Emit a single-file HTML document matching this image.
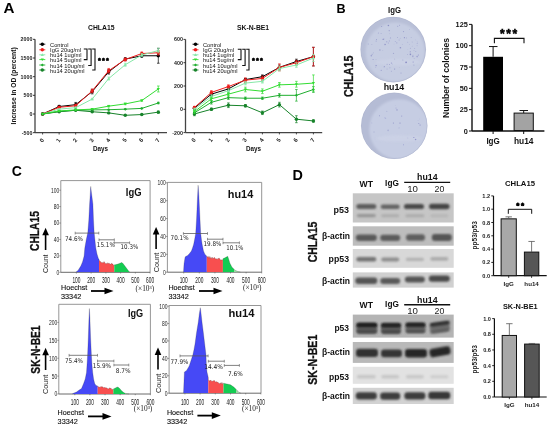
<!DOCTYPE html>
<html><head><meta charset="utf-8"><title>Figure</title>
<style>html,body{margin:0;padding:0;background:#fff;} svg{display:block;}</style></head>
<body><svg width="550" height="431" viewBox="0 0 550 431">
<defs><radialGradient id="plate" cx="0.5" cy="0.5" r="0.5">
<stop offset="0" stop-color="#c3cbe5"/><stop offset="0.82" stop-color="#c0c8e2"/><stop offset="0.95" stop-color="#b6bed9"/><stop offset="1" stop-color="#adb5d0"/></radialGradient>
<filter id="blur05" x="-50%" y="-50%" width="200%" height="200%"><feGaussianBlur stdDeviation="0.45"/></filter>
<filter id="blurst" x="-20%" y="-50%" width="140%" height="200%"><feGaussianBlur stdDeviation="0.4"/></filter>
<filter id="blur1" x="-50%" y="-50%" width="200%" height="200%"><feGaussianBlur stdDeviation="1.0"/></filter>
<filter id="blurb" x="-20%" y="-60%" width="140%" height="220%"><feGaussianBlur stdDeviation="1.0"/></filter>
<filter id="blur15" x="-20%" y="-50%" width="140%" height="200%"><feGaussianBlur stdDeviation="1.3"/></filter>
</defs>
<rect width="550" height="431" fill="#fff"/>
<text x="3.60" y="13.30" font-size="15.2" font-family="'Liberation Sans', Arial, sans-serif" fill="#000" font-weight="bold" >A</text>
<text x="336.60" y="13.00" font-size="12.6" font-family="'Liberation Sans', Arial, sans-serif" fill="#000" font-weight="bold" >B</text>
<text x="11.80" y="176.00" font-size="14" font-family="'Liberation Sans', Arial, sans-serif" fill="#000" font-weight="bold" >C</text>
<text x="292.60" y="180.20" font-size="15.0" font-family="'Liberation Sans', Arial, sans-serif" fill="#000" font-weight="bold" textLength="10.4" lengthAdjust="spacingAndGlyphs" >D</text>
<line x1="35.00" y1="39.30" x2="35.00" y2="132.70" stroke="#444" stroke-width="1.3" />
<line x1="33.00" y1="39.34" x2="35.00" y2="39.34" stroke="#222" stroke-width="0.9" />
<text x="32.40" y="41.24" font-size="5.3" font-family="'Liberation Sans', Arial, sans-serif" fill="#222" font-weight="bold" text-anchor="end" >2000</text>
<line x1="33.00" y1="58.00" x2="35.00" y2="58.00" stroke="#222" stroke-width="0.9" />
<text x="32.40" y="59.90" font-size="5.3" font-family="'Liberation Sans', Arial, sans-serif" fill="#222" font-weight="bold" text-anchor="end" >1500</text>
<line x1="33.00" y1="76.67" x2="35.00" y2="76.67" stroke="#222" stroke-width="0.9" />
<text x="32.40" y="78.57" font-size="5.3" font-family="'Liberation Sans', Arial, sans-serif" fill="#222" font-weight="bold" text-anchor="end" >1000</text>
<line x1="33.00" y1="95.33" x2="35.00" y2="95.33" stroke="#222" stroke-width="0.9" />
<text x="32.40" y="97.23" font-size="5.3" font-family="'Liberation Sans', Arial, sans-serif" fill="#222" font-weight="bold" text-anchor="end" >500</text>
<line x1="33.00" y1="114.00" x2="35.00" y2="114.00" stroke="#222" stroke-width="0.9" />
<text x="32.40" y="115.90" font-size="5.3" font-family="'Liberation Sans', Arial, sans-serif" fill="#222" font-weight="bold" text-anchor="end" >0</text>
<line x1="33.00" y1="132.66" x2="35.00" y2="132.66" stroke="#222" stroke-width="0.9" />
<text x="32.40" y="134.56" font-size="5.3" font-family="'Liberation Sans', Arial, sans-serif" fill="#222" font-weight="bold" text-anchor="end" >-500</text>
<line x1="35.00" y1="132.70" x2="167.00" y2="132.70" stroke="#444" stroke-width="1.3" />
<line x1="42.60" y1="132.70" x2="42.60" y2="134.50" stroke="#222" stroke-width="0.8" />
<text x="43.50" y="141.30" font-size="5.8" font-family="'Liberation Sans', Arial, sans-serif" fill="#222" font-weight="bold" text-anchor="middle" transform="rotate(-55 43.50 141.30)" >0</text>
<line x1="59.13" y1="132.70" x2="59.13" y2="134.50" stroke="#222" stroke-width="0.8" />
<text x="60.03" y="141.30" font-size="5.8" font-family="'Liberation Sans', Arial, sans-serif" fill="#222" font-weight="bold" text-anchor="middle" transform="rotate(-55 60.03 141.30)" >1</text>
<line x1="75.66" y1="132.70" x2="75.66" y2="134.50" stroke="#222" stroke-width="0.8" />
<text x="76.56" y="141.30" font-size="5.8" font-family="'Liberation Sans', Arial, sans-serif" fill="#222" font-weight="bold" text-anchor="middle" transform="rotate(-55 76.56 141.30)" >2</text>
<line x1="92.19" y1="132.70" x2="92.19" y2="134.50" stroke="#222" stroke-width="0.8" />
<text x="93.09" y="141.30" font-size="5.8" font-family="'Liberation Sans', Arial, sans-serif" fill="#222" font-weight="bold" text-anchor="middle" transform="rotate(-55 93.09 141.30)" >3</text>
<line x1="108.72" y1="132.70" x2="108.72" y2="134.50" stroke="#222" stroke-width="0.8" />
<text x="109.62" y="141.30" font-size="5.8" font-family="'Liberation Sans', Arial, sans-serif" fill="#222" font-weight="bold" text-anchor="middle" transform="rotate(-55 109.62 141.30)" >4</text>
<line x1="125.25" y1="132.70" x2="125.25" y2="134.50" stroke="#222" stroke-width="0.8" />
<text x="126.15" y="141.30" font-size="5.8" font-family="'Liberation Sans', Arial, sans-serif" fill="#222" font-weight="bold" text-anchor="middle" transform="rotate(-55 126.15 141.30)" >5</text>
<line x1="141.78" y1="132.70" x2="141.78" y2="134.50" stroke="#222" stroke-width="0.8" />
<text x="142.68" y="141.30" font-size="5.8" font-family="'Liberation Sans', Arial, sans-serif" fill="#222" font-weight="bold" text-anchor="middle" transform="rotate(-55 142.68 141.30)" >6</text>
<line x1="158.31" y1="132.70" x2="158.31" y2="134.50" stroke="#222" stroke-width="0.8" />
<text x="159.21" y="141.30" font-size="5.8" font-family="'Liberation Sans', Arial, sans-serif" fill="#222" font-weight="bold" text-anchor="middle" transform="rotate(-55 159.21 141.30)" >7</text>
<text x="100.50" y="151.20" font-size="6.3" font-family="'Liberation Sans', Arial, sans-serif" fill="#111" font-weight="bold" text-anchor="middle" >Days</text>
<text x="88.00" y="29.80" font-size="6.8" font-family="'Liberation Sans', Arial, sans-serif" fill="#111" font-weight="bold" >CHLA15</text>
<line x1="59.13" y1="105.41" x2="59.13" y2="107.65" stroke="#000000" stroke-width="0.7" />
<line x1="57.83" y1="105.41" x2="60.43" y2="105.41" stroke="#000000" stroke-width="0.7" />
<line x1="57.83" y1="107.65" x2="60.43" y2="107.65" stroke="#000000" stroke-width="0.7" />
<line x1="75.66" y1="102.43" x2="75.66" y2="106.91" stroke="#000000" stroke-width="0.7" />
<line x1="74.36" y1="102.43" x2="76.96" y2="102.43" stroke="#000000" stroke-width="0.7" />
<line x1="74.36" y1="106.91" x2="76.96" y2="106.91" stroke="#000000" stroke-width="0.7" />
<line x1="92.19" y1="89.36" x2="92.19" y2="93.84" stroke="#000000" stroke-width="0.7" />
<line x1="90.89" y1="89.36" x2="93.49" y2="89.36" stroke="#000000" stroke-width="0.7" />
<line x1="90.89" y1="93.84" x2="93.49" y2="93.84" stroke="#000000" stroke-width="0.7" />
<line x1="108.72" y1="69.58" x2="108.72" y2="74.06" stroke="#000000" stroke-width="0.7" />
<line x1="107.42" y1="69.58" x2="110.02" y2="69.58" stroke="#000000" stroke-width="0.7" />
<line x1="107.42" y1="74.06" x2="110.02" y2="74.06" stroke="#000000" stroke-width="0.7" />
<line x1="125.25" y1="57.63" x2="125.25" y2="60.62" stroke="#000000" stroke-width="0.7" />
<line x1="123.95" y1="57.63" x2="126.55" y2="57.63" stroke="#000000" stroke-width="0.7" />
<line x1="123.95" y1="60.62" x2="126.55" y2="60.62" stroke="#000000" stroke-width="0.7" />
<line x1="141.78" y1="54.27" x2="141.78" y2="57.26" stroke="#000000" stroke-width="0.7" />
<line x1="140.48" y1="54.27" x2="143.08" y2="54.27" stroke="#000000" stroke-width="0.7" />
<line x1="140.48" y1="57.26" x2="143.08" y2="57.26" stroke="#000000" stroke-width="0.7" />
<line x1="158.31" y1="48.30" x2="158.31" y2="63.23" stroke="#000000" stroke-width="0.7" />
<line x1="157.01" y1="48.30" x2="159.61" y2="48.30" stroke="#000000" stroke-width="0.7" />
<line x1="157.01" y1="63.23" x2="159.61" y2="63.23" stroke="#000000" stroke-width="0.7" />
<polyline points="42.60,114.00 59.13,106.53 75.66,104.67 92.19,91.60 108.72,71.82 125.25,59.12 141.78,55.77 158.31,55.77" stroke="#000000" stroke-width="1.0" fill="none" />
<circle cx="42.60" cy="114.00" r="1.7" fill="#000000"/>
<circle cx="59.13" cy="106.53" r="1.7" fill="#000000"/>
<circle cx="75.66" cy="104.67" r="1.7" fill="#000000"/>
<circle cx="92.19" cy="91.60" r="1.7" fill="#000000"/>
<circle cx="108.72" cy="71.82" r="1.7" fill="#000000"/>
<circle cx="125.25" cy="59.12" r="1.7" fill="#000000"/>
<circle cx="141.78" cy="55.77" r="1.7" fill="#000000"/>
<circle cx="158.31" cy="55.77" r="1.7" fill="#000000"/>
<line x1="59.13" y1="106.53" x2="59.13" y2="108.03" stroke="#ee1c1c" stroke-width="0.7" />
<line x1="57.83" y1="106.53" x2="60.43" y2="106.53" stroke="#ee1c1c" stroke-width="0.7" />
<line x1="57.83" y1="108.03" x2="60.43" y2="108.03" stroke="#ee1c1c" stroke-width="0.7" />
<line x1="75.66" y1="104.29" x2="75.66" y2="107.28" stroke="#ee1c1c" stroke-width="0.7" />
<line x1="74.36" y1="104.29" x2="76.96" y2="104.29" stroke="#ee1c1c" stroke-width="0.7" />
<line x1="74.36" y1="107.28" x2="76.96" y2="107.28" stroke="#ee1c1c" stroke-width="0.7" />
<line x1="92.19" y1="88.99" x2="92.19" y2="92.72" stroke="#ee1c1c" stroke-width="0.7" />
<line x1="90.89" y1="88.99" x2="93.49" y2="88.99" stroke="#ee1c1c" stroke-width="0.7" />
<line x1="90.89" y1="92.72" x2="93.49" y2="92.72" stroke="#ee1c1c" stroke-width="0.7" />
<line x1="108.72" y1="68.46" x2="108.72" y2="72.94" stroke="#ee1c1c" stroke-width="0.7" />
<line x1="107.42" y1="68.46" x2="110.02" y2="68.46" stroke="#ee1c1c" stroke-width="0.7" />
<line x1="107.42" y1="72.94" x2="110.02" y2="72.94" stroke="#ee1c1c" stroke-width="0.7" />
<line x1="125.25" y1="58.00" x2="125.25" y2="60.99" stroke="#ee1c1c" stroke-width="0.7" />
<line x1="123.95" y1="58.00" x2="126.55" y2="58.00" stroke="#ee1c1c" stroke-width="0.7" />
<line x1="123.95" y1="60.99" x2="126.55" y2="60.99" stroke="#ee1c1c" stroke-width="0.7" />
<line x1="141.78" y1="52.03" x2="141.78" y2="55.02" stroke="#ee1c1c" stroke-width="0.7" />
<line x1="140.48" y1="52.03" x2="143.08" y2="52.03" stroke="#ee1c1c" stroke-width="0.7" />
<line x1="140.48" y1="55.02" x2="143.08" y2="55.02" stroke="#ee1c1c" stroke-width="0.7" />
<line x1="158.31" y1="50.54" x2="158.31" y2="55.02" stroke="#ee1c1c" stroke-width="0.7" />
<line x1="157.01" y1="50.54" x2="159.61" y2="50.54" stroke="#ee1c1c" stroke-width="0.7" />
<line x1="157.01" y1="55.02" x2="159.61" y2="55.02" stroke="#ee1c1c" stroke-width="0.7" />
<polyline points="42.60,114.00 59.13,107.28 75.66,105.79 92.19,90.86 108.72,70.70 125.25,59.50 141.78,53.53 158.31,52.78" stroke="#ee1c1c" stroke-width="1.0" fill="none" />
<circle cx="42.60" cy="114.00" r="1.7" fill="#ee1c1c"/>
<circle cx="59.13" cy="107.28" r="1.7" fill="#ee1c1c"/>
<circle cx="75.66" cy="105.79" r="1.7" fill="#ee1c1c"/>
<circle cx="92.19" cy="90.86" r="1.7" fill="#ee1c1c"/>
<circle cx="108.72" cy="70.70" r="1.7" fill="#ee1c1c"/>
<circle cx="125.25" cy="59.50" r="1.7" fill="#ee1c1c"/>
<circle cx="141.78" cy="53.53" r="1.7" fill="#ee1c1c"/>
<circle cx="158.31" cy="52.78" r="1.7" fill="#ee1c1c"/>
<line x1="59.13" y1="108.77" x2="59.13" y2="109.52" stroke="#86e8a8" stroke-width="0.7" />
<line x1="57.83" y1="108.77" x2="60.43" y2="108.77" stroke="#86e8a8" stroke-width="0.7" />
<line x1="57.83" y1="109.52" x2="60.43" y2="109.52" stroke="#86e8a8" stroke-width="0.7" />
<line x1="75.66" y1="106.91" x2="75.66" y2="108.40" stroke="#86e8a8" stroke-width="0.7" />
<line x1="74.36" y1="106.91" x2="76.96" y2="106.91" stroke="#86e8a8" stroke-width="0.7" />
<line x1="74.36" y1="108.40" x2="76.96" y2="108.40" stroke="#86e8a8" stroke-width="0.7" />
<line x1="92.19" y1="98.32" x2="92.19" y2="99.81" stroke="#86e8a8" stroke-width="0.7" />
<line x1="90.89" y1="98.32" x2="93.49" y2="98.32" stroke="#86e8a8" stroke-width="0.7" />
<line x1="90.89" y1="99.81" x2="93.49" y2="99.81" stroke="#86e8a8" stroke-width="0.7" />
<line x1="108.72" y1="77.04" x2="108.72" y2="80.03" stroke="#86e8a8" stroke-width="0.7" />
<line x1="107.42" y1="77.04" x2="110.02" y2="77.04" stroke="#86e8a8" stroke-width="0.7" />
<line x1="107.42" y1="80.03" x2="110.02" y2="80.03" stroke="#86e8a8" stroke-width="0.7" />
<line x1="125.25" y1="63.23" x2="125.25" y2="66.22" stroke="#86e8a8" stroke-width="0.7" />
<line x1="123.95" y1="63.23" x2="126.55" y2="63.23" stroke="#86e8a8" stroke-width="0.7" />
<line x1="123.95" y1="66.22" x2="126.55" y2="66.22" stroke="#86e8a8" stroke-width="0.7" />
<line x1="141.78" y1="53.53" x2="141.78" y2="56.51" stroke="#86e8a8" stroke-width="0.7" />
<line x1="140.48" y1="53.53" x2="143.08" y2="53.53" stroke="#86e8a8" stroke-width="0.7" />
<line x1="140.48" y1="56.51" x2="143.08" y2="56.51" stroke="#86e8a8" stroke-width="0.7" />
<line x1="158.31" y1="48.30" x2="158.31" y2="52.78" stroke="#86e8a8" stroke-width="0.7" />
<line x1="157.01" y1="48.30" x2="159.61" y2="48.30" stroke="#86e8a8" stroke-width="0.7" />
<line x1="157.01" y1="52.78" x2="159.61" y2="52.78" stroke="#86e8a8" stroke-width="0.7" />
<polyline points="42.60,114.00 59.13,109.15 75.66,107.65 92.19,99.07 108.72,78.54 125.25,64.72 141.78,55.02 158.31,50.54" stroke="#86e8a8" stroke-width="1.0" fill="none" />
<path d="M41.00,115.10 L44.20,115.10 L42.60,112.50 Z" fill="#86e8a8"/>
<path d="M57.53,110.25 L60.73,110.25 L59.13,107.65 Z" fill="#86e8a8"/>
<path d="M74.06,108.75 L77.26,108.75 L75.66,106.15 Z" fill="#86e8a8"/>
<path d="M90.59,100.17 L93.79,100.17 L92.19,97.57 Z" fill="#86e8a8"/>
<path d="M107.12,79.64 L110.32,79.64 L108.72,77.04 Z" fill="#86e8a8"/>
<path d="M123.65,65.82 L126.85,65.82 L125.25,63.22 Z" fill="#86e8a8"/>
<path d="M140.18,56.12 L143.38,56.12 L141.78,53.52 Z" fill="#86e8a8"/>
<path d="M156.71,51.64 L159.91,51.64 L158.31,49.04 Z" fill="#86e8a8"/>
<line x1="59.13" y1="111.01" x2="59.13" y2="111.76" stroke="#1fae2f" stroke-width="0.7" />
<line x1="57.83" y1="111.01" x2="60.43" y2="111.01" stroke="#1fae2f" stroke-width="0.7" />
<line x1="57.83" y1="111.76" x2="60.43" y2="111.76" stroke="#1fae2f" stroke-width="0.7" />
<line x1="75.66" y1="109.89" x2="75.66" y2="110.64" stroke="#1fae2f" stroke-width="0.7" />
<line x1="74.36" y1="109.89" x2="76.96" y2="109.89" stroke="#1fae2f" stroke-width="0.7" />
<line x1="74.36" y1="110.64" x2="76.96" y2="110.64" stroke="#1fae2f" stroke-width="0.7" />
<line x1="92.19" y1="109.52" x2="92.19" y2="110.27" stroke="#1fae2f" stroke-width="0.7" />
<line x1="90.89" y1="109.52" x2="93.49" y2="109.52" stroke="#1fae2f" stroke-width="0.7" />
<line x1="90.89" y1="110.27" x2="93.49" y2="110.27" stroke="#1fae2f" stroke-width="0.7" />
<line x1="108.72" y1="109.33" x2="108.72" y2="110.08" stroke="#1fae2f" stroke-width="0.7" />
<line x1="107.42" y1="109.33" x2="110.02" y2="109.33" stroke="#1fae2f" stroke-width="0.7" />
<line x1="107.42" y1="110.08" x2="110.02" y2="110.08" stroke="#1fae2f" stroke-width="0.7" />
<line x1="125.25" y1="108.77" x2="125.25" y2="109.52" stroke="#1fae2f" stroke-width="0.7" />
<line x1="123.95" y1="108.77" x2="126.55" y2="108.77" stroke="#1fae2f" stroke-width="0.7" />
<line x1="123.95" y1="109.52" x2="126.55" y2="109.52" stroke="#1fae2f" stroke-width="0.7" />
<line x1="141.78" y1="108.03" x2="141.78" y2="108.77" stroke="#1fae2f" stroke-width="0.7" />
<line x1="140.48" y1="108.03" x2="143.08" y2="108.03" stroke="#1fae2f" stroke-width="0.7" />
<line x1="140.48" y1="108.77" x2="143.08" y2="108.77" stroke="#1fae2f" stroke-width="0.7" />
<line x1="158.31" y1="102.24" x2="158.31" y2="103.73" stroke="#1fae2f" stroke-width="0.7" />
<line x1="157.01" y1="102.24" x2="159.61" y2="102.24" stroke="#1fae2f" stroke-width="0.7" />
<line x1="157.01" y1="103.73" x2="159.61" y2="103.73" stroke="#1fae2f" stroke-width="0.7" />
<polyline points="42.60,114.00 59.13,111.39 75.66,110.27 92.19,109.89 108.72,109.71 125.25,109.15 141.78,108.40 158.31,102.99" stroke="#1fae2f" stroke-width="1.0" fill="none" />
<path d="M42.60,112.50 L44.10,114.00 L42.60,115.50 L41.10,114.00 Z" fill="#1fae2f"/>
<path d="M59.13,109.89 L60.63,111.39 L59.13,112.89 L57.63,111.39 Z" fill="#1fae2f"/>
<path d="M75.66,108.77 L77.16,110.27 L75.66,111.77 L74.16,110.27 Z" fill="#1fae2f"/>
<path d="M92.19,108.39 L93.69,109.89 L92.19,111.39 L90.69,109.89 Z" fill="#1fae2f"/>
<path d="M108.72,108.21 L110.22,109.71 L108.72,111.21 L107.22,109.71 Z" fill="#1fae2f"/>
<path d="M125.25,107.65 L126.75,109.15 L125.25,110.65 L123.75,109.15 Z" fill="#1fae2f"/>
<path d="M141.78,106.90 L143.28,108.40 L141.78,109.90 L140.28,108.40 Z" fill="#1fae2f"/>
<path d="M158.31,101.49 L159.81,102.99 L158.31,104.49 L156.81,102.99 Z" fill="#1fae2f"/>
<line x1="59.13" y1="111.39" x2="59.13" y2="112.13" stroke="#17832a" stroke-width="0.7" />
<line x1="57.83" y1="111.39" x2="60.43" y2="111.39" stroke="#17832a" stroke-width="0.7" />
<line x1="57.83" y1="112.13" x2="60.43" y2="112.13" stroke="#17832a" stroke-width="0.7" />
<line x1="75.66" y1="109.89" x2="75.66" y2="110.64" stroke="#17832a" stroke-width="0.7" />
<line x1="74.36" y1="109.89" x2="76.96" y2="109.89" stroke="#17832a" stroke-width="0.7" />
<line x1="74.36" y1="110.64" x2="76.96" y2="110.64" stroke="#17832a" stroke-width="0.7" />
<line x1="92.19" y1="111.39" x2="92.19" y2="112.13" stroke="#17832a" stroke-width="0.7" />
<line x1="90.89" y1="111.39" x2="93.49" y2="111.39" stroke="#17832a" stroke-width="0.7" />
<line x1="90.89" y1="112.13" x2="93.49" y2="112.13" stroke="#17832a" stroke-width="0.7" />
<line x1="108.72" y1="112.51" x2="108.72" y2="113.25" stroke="#17832a" stroke-width="0.7" />
<line x1="107.42" y1="112.51" x2="110.02" y2="112.51" stroke="#17832a" stroke-width="0.7" />
<line x1="107.42" y1="113.25" x2="110.02" y2="113.25" stroke="#17832a" stroke-width="0.7" />
<line x1="125.25" y1="114.93" x2="125.25" y2="115.68" stroke="#17832a" stroke-width="0.7" />
<line x1="123.95" y1="114.93" x2="126.55" y2="114.93" stroke="#17832a" stroke-width="0.7" />
<line x1="123.95" y1="115.68" x2="126.55" y2="115.68" stroke="#17832a" stroke-width="0.7" />
<line x1="141.78" y1="114.19" x2="141.78" y2="114.93" stroke="#17832a" stroke-width="0.7" />
<line x1="140.48" y1="114.19" x2="143.08" y2="114.19" stroke="#17832a" stroke-width="0.7" />
<line x1="140.48" y1="114.93" x2="143.08" y2="114.93" stroke="#17832a" stroke-width="0.7" />
<line x1="158.31" y1="111.01" x2="158.31" y2="113.25" stroke="#17832a" stroke-width="0.7" />
<line x1="157.01" y1="111.01" x2="159.61" y2="111.01" stroke="#17832a" stroke-width="0.7" />
<line x1="157.01" y1="113.25" x2="159.61" y2="113.25" stroke="#17832a" stroke-width="0.7" />
<polyline points="42.60,114.00 59.13,111.76 75.66,110.27 92.19,111.76 108.72,112.88 125.25,115.31 141.78,114.56 158.31,112.13" stroke="#17832a" stroke-width="1.0" fill="none" />
<circle cx="42.60" cy="114.00" r="1.7" fill="#17832a"/>
<circle cx="59.13" cy="111.76" r="1.7" fill="#17832a"/>
<circle cx="75.66" cy="110.27" r="1.7" fill="#17832a"/>
<circle cx="92.19" cy="111.76" r="1.7" fill="#17832a"/>
<circle cx="108.72" cy="112.88" r="1.7" fill="#17832a"/>
<circle cx="125.25" cy="115.31" r="1.7" fill="#17832a"/>
<circle cx="141.78" cy="114.56" r="1.7" fill="#17832a"/>
<circle cx="158.31" cy="112.13" r="1.7" fill="#17832a"/>
<line x1="59.13" y1="110.64" x2="59.13" y2="111.39" stroke="#33dd33" stroke-width="0.7" />
<line x1="57.83" y1="110.64" x2="60.43" y2="110.64" stroke="#33dd33" stroke-width="0.7" />
<line x1="57.83" y1="111.39" x2="60.43" y2="111.39" stroke="#33dd33" stroke-width="0.7" />
<line x1="75.66" y1="109.52" x2="75.66" y2="110.27" stroke="#33dd33" stroke-width="0.7" />
<line x1="74.36" y1="109.52" x2="76.96" y2="109.52" stroke="#33dd33" stroke-width="0.7" />
<line x1="74.36" y1="110.27" x2="76.96" y2="110.27" stroke="#33dd33" stroke-width="0.7" />
<line x1="92.19" y1="108.77" x2="92.19" y2="109.52" stroke="#33dd33" stroke-width="0.7" />
<line x1="90.89" y1="108.77" x2="93.49" y2="108.77" stroke="#33dd33" stroke-width="0.7" />
<line x1="90.89" y1="109.52" x2="93.49" y2="109.52" stroke="#33dd33" stroke-width="0.7" />
<line x1="108.72" y1="105.41" x2="108.72" y2="106.91" stroke="#33dd33" stroke-width="0.7" />
<line x1="107.42" y1="105.41" x2="110.02" y2="105.41" stroke="#33dd33" stroke-width="0.7" />
<line x1="107.42" y1="106.91" x2="110.02" y2="106.91" stroke="#33dd33" stroke-width="0.7" />
<line x1="125.25" y1="103.17" x2="125.25" y2="104.67" stroke="#33dd33" stroke-width="0.7" />
<line x1="123.95" y1="103.17" x2="126.55" y2="103.17" stroke="#33dd33" stroke-width="0.7" />
<line x1="123.95" y1="104.67" x2="126.55" y2="104.67" stroke="#33dd33" stroke-width="0.7" />
<line x1="141.78" y1="99.81" x2="141.78" y2="101.31" stroke="#33dd33" stroke-width="0.7" />
<line x1="140.48" y1="99.81" x2="143.08" y2="99.81" stroke="#33dd33" stroke-width="0.7" />
<line x1="140.48" y1="101.31" x2="143.08" y2="101.31" stroke="#33dd33" stroke-width="0.7" />
<line x1="158.31" y1="86.00" x2="158.31" y2="91.98" stroke="#33dd33" stroke-width="0.7" />
<line x1="157.01" y1="86.00" x2="159.61" y2="86.00" stroke="#33dd33" stroke-width="0.7" />
<line x1="157.01" y1="91.98" x2="159.61" y2="91.98" stroke="#33dd33" stroke-width="0.7" />
<polyline points="42.60,114.00 59.13,111.01 75.66,109.89 92.19,109.15 108.72,106.16 125.25,103.92 141.78,100.56 158.31,88.99" stroke="#33dd33" stroke-width="1.0" fill="none" />
<path d="M41.00,112.90 L44.20,112.90 L42.60,115.50 Z" fill="#33dd33"/>
<path d="M57.53,109.91 L60.73,109.91 L59.13,112.51 Z" fill="#33dd33"/>
<path d="M74.06,108.79 L77.26,108.79 L75.66,111.39 Z" fill="#33dd33"/>
<path d="M90.59,108.05 L93.79,108.05 L92.19,110.65 Z" fill="#33dd33"/>
<path d="M107.12,105.06 L110.32,105.06 L108.72,107.66 Z" fill="#33dd33"/>
<path d="M123.65,102.82 L126.85,102.82 L125.25,105.42 Z" fill="#33dd33"/>
<path d="M140.18,99.46 L143.38,99.46 L141.78,102.06 Z" fill="#33dd33"/>
<path d="M156.71,87.89 L159.91,87.89 L158.31,90.49 Z" fill="#33dd33"/>
<line x1="39.30" y1="44.20" x2="45.30" y2="44.20" stroke="#000000" stroke-width="0.9" />
<circle cx="42.30" cy="44.20" r="1.7" fill="#000000"/>
<text x="50.10" y="46.70" font-size="5.7" font-family="'Liberation Sans', Arial, sans-serif" fill="#111" >Control</text>
<line x1="39.30" y1="49.80" x2="45.30" y2="49.80" stroke="#ee1c1c" stroke-width="0.9" />
<circle cx="42.30" cy="49.80" r="1.7" fill="#ee1c1c"/>
<text x="50.10" y="52.30" font-size="5.7" font-family="'Liberation Sans', Arial, sans-serif" fill="#111" >IgG 20ug/ml</text>
<line x1="39.30" y1="54.80" x2="45.30" y2="54.80" stroke="#86e8a8" stroke-width="0.9" />
<path d="M40.70,55.90 L43.90,55.90 L42.30,53.30 Z" fill="#86e8a8"/>
<text x="50.10" y="57.30" font-size="5.7" font-family="'Liberation Sans', Arial, sans-serif" fill="#111" >hu14 1ug/ml</text>
<line x1="39.30" y1="59.60" x2="45.30" y2="59.60" stroke="#33dd33" stroke-width="0.9" />
<path d="M40.70,58.50 L43.90,58.50 L42.30,61.10 Z" fill="#33dd33"/>
<text x="50.10" y="62.10" font-size="5.7" font-family="'Liberation Sans', Arial, sans-serif" fill="#111" >hu14 5ug/ml</text>
<line x1="39.30" y1="65.00" x2="45.30" y2="65.00" stroke="#1fae2f" stroke-width="0.9" />
<path d="M42.30,63.50 L43.80,65.00 L42.30,66.50 L40.80,65.00 Z" fill="#1fae2f"/>
<text x="50.10" y="67.50" font-size="5.7" font-family="'Liberation Sans', Arial, sans-serif" fill="#111" >hu14 10ug/ml</text>
<line x1="39.30" y1="70.00" x2="45.30" y2="70.00" stroke="#17832a" stroke-width="0.9" />
<circle cx="42.30" cy="70.00" r="1.7" fill="#17832a"/>
<text x="50.10" y="72.50" font-size="5.7" font-family="'Liberation Sans', Arial, sans-serif" fill="#111" >hu14 20ug/ml</text>
<polyline points="83.80,49.00 87.00,49.00 87.00,59.60 83.80,59.60" stroke="#111" stroke-width="1.1" fill="none" />
<polyline points="88.20,49.00 91.10,49.00 91.10,65.50 88.20,65.50" stroke="#111" stroke-width="1.1" fill="none" />
<polyline points="92.20,49.00 95.00,49.00 95.00,70.00 92.20,70.00" stroke="#111" stroke-width="1.1" fill="none" />
<text x="98.10" y="63.20" font-size="7.4" font-family="'Liberation Sans', Arial, sans-serif" fill="#000" font-weight="bold" letter-spacing="1.05" stroke="#000" stroke-width="0.55" stroke-linejoin="round" filter="url(#blurst)">***</text>
<line x1="185.50" y1="39.40" x2="185.50" y2="132.60" stroke="#444" stroke-width="1.3" />
<line x1="183.50" y1="39.40" x2="185.50" y2="39.40" stroke="#222" stroke-width="0.9" />
<text x="182.90" y="41.30" font-size="5.3" font-family="'Liberation Sans', Arial, sans-serif" fill="#222" font-weight="bold" text-anchor="end" >600</text>
<line x1="183.50" y1="62.70" x2="185.50" y2="62.70" stroke="#222" stroke-width="0.9" />
<text x="182.90" y="64.60" font-size="5.3" font-family="'Liberation Sans', Arial, sans-serif" fill="#222" font-weight="bold" text-anchor="end" >400</text>
<line x1="183.50" y1="86.00" x2="185.50" y2="86.00" stroke="#222" stroke-width="0.9" />
<text x="182.90" y="87.90" font-size="5.3" font-family="'Liberation Sans', Arial, sans-serif" fill="#222" font-weight="bold" text-anchor="end" >200</text>
<line x1="183.50" y1="109.30" x2="185.50" y2="109.30" stroke="#222" stroke-width="0.9" />
<text x="182.90" y="111.20" font-size="5.3" font-family="'Liberation Sans', Arial, sans-serif" fill="#222" font-weight="bold" text-anchor="end" >0</text>
<line x1="183.50" y1="132.60" x2="185.50" y2="132.60" stroke="#222" stroke-width="0.9" />
<text x="182.90" y="134.50" font-size="5.3" font-family="'Liberation Sans', Arial, sans-serif" fill="#222" font-weight="bold" text-anchor="end" >-200</text>
<line x1="185.50" y1="132.60" x2="322.20" y2="132.60" stroke="#444" stroke-width="1.3" />
<line x1="194.40" y1="132.60" x2="194.40" y2="134.40" stroke="#222" stroke-width="0.8" />
<text x="195.30" y="141.20" font-size="5.8" font-family="'Liberation Sans', Arial, sans-serif" fill="#222" font-weight="bold" text-anchor="middle" transform="rotate(-55 195.30 141.20)" >0</text>
<line x1="211.40" y1="132.60" x2="211.40" y2="134.40" stroke="#222" stroke-width="0.8" />
<text x="212.30" y="141.20" font-size="5.8" font-family="'Liberation Sans', Arial, sans-serif" fill="#222" font-weight="bold" text-anchor="middle" transform="rotate(-55 212.30 141.20)" >1</text>
<line x1="228.40" y1="132.60" x2="228.40" y2="134.40" stroke="#222" stroke-width="0.8" />
<text x="229.30" y="141.20" font-size="5.8" font-family="'Liberation Sans', Arial, sans-serif" fill="#222" font-weight="bold" text-anchor="middle" transform="rotate(-55 229.30 141.20)" >2</text>
<line x1="245.40" y1="132.60" x2="245.40" y2="134.40" stroke="#222" stroke-width="0.8" />
<text x="246.30" y="141.20" font-size="5.8" font-family="'Liberation Sans', Arial, sans-serif" fill="#222" font-weight="bold" text-anchor="middle" transform="rotate(-55 246.30 141.20)" >3</text>
<line x1="262.40" y1="132.60" x2="262.40" y2="134.40" stroke="#222" stroke-width="0.8" />
<text x="263.30" y="141.20" font-size="5.8" font-family="'Liberation Sans', Arial, sans-serif" fill="#222" font-weight="bold" text-anchor="middle" transform="rotate(-55 263.30 141.20)" >4</text>
<line x1="279.40" y1="132.60" x2="279.40" y2="134.40" stroke="#222" stroke-width="0.8" />
<text x="280.30" y="141.20" font-size="5.8" font-family="'Liberation Sans', Arial, sans-serif" fill="#222" font-weight="bold" text-anchor="middle" transform="rotate(-55 280.30 141.20)" >5</text>
<line x1="296.40" y1="132.60" x2="296.40" y2="134.40" stroke="#222" stroke-width="0.8" />
<text x="297.30" y="141.20" font-size="5.8" font-family="'Liberation Sans', Arial, sans-serif" fill="#222" font-weight="bold" text-anchor="middle" transform="rotate(-55 297.30 141.20)" >6</text>
<line x1="313.40" y1="132.60" x2="313.40" y2="134.40" stroke="#222" stroke-width="0.8" />
<text x="314.30" y="141.20" font-size="5.8" font-family="'Liberation Sans', Arial, sans-serif" fill="#222" font-weight="bold" text-anchor="middle" transform="rotate(-55 314.30 141.20)" >7</text>
<text x="253.50" y="151.20" font-size="6.3" font-family="'Liberation Sans', Arial, sans-serif" fill="#111" font-weight="bold" text-anchor="middle" >Days</text>
<text x="237.00" y="29.80" font-size="6.8" font-family="'Liberation Sans', Arial, sans-serif" fill="#111" font-weight="bold" >SK-N-BE1</text>
<line x1="194.40" y1="106.97" x2="194.40" y2="109.30" stroke="#000000" stroke-width="0.7" />
<line x1="193.10" y1="106.97" x2="195.70" y2="106.97" stroke="#000000" stroke-width="0.7" />
<line x1="193.10" y1="109.30" x2="195.70" y2="109.30" stroke="#000000" stroke-width="0.7" />
<line x1="211.40" y1="92.41" x2="211.40" y2="95.90" stroke="#000000" stroke-width="0.7" />
<line x1="210.10" y1="92.41" x2="212.70" y2="92.41" stroke="#000000" stroke-width="0.7" />
<line x1="210.10" y1="95.90" x2="212.70" y2="95.90" stroke="#000000" stroke-width="0.7" />
<line x1="228.40" y1="87.16" x2="228.40" y2="90.66" stroke="#000000" stroke-width="0.7" />
<line x1="227.10" y1="87.16" x2="229.70" y2="87.16" stroke="#000000" stroke-width="0.7" />
<line x1="227.10" y1="90.66" x2="229.70" y2="90.66" stroke="#000000" stroke-width="0.7" />
<line x1="245.40" y1="78.43" x2="245.40" y2="80.76" stroke="#000000" stroke-width="0.7" />
<line x1="244.10" y1="78.43" x2="246.70" y2="78.43" stroke="#000000" stroke-width="0.7" />
<line x1="244.10" y1="80.76" x2="246.70" y2="80.76" stroke="#000000" stroke-width="0.7" />
<line x1="262.40" y1="74.93" x2="262.40" y2="78.43" stroke="#000000" stroke-width="0.7" />
<line x1="261.10" y1="74.93" x2="263.70" y2="74.93" stroke="#000000" stroke-width="0.7" />
<line x1="261.10" y1="78.43" x2="263.70" y2="78.43" stroke="#000000" stroke-width="0.7" />
<line x1="279.40" y1="65.03" x2="279.40" y2="69.69" stroke="#000000" stroke-width="0.7" />
<line x1="278.10" y1="65.03" x2="280.70" y2="65.03" stroke="#000000" stroke-width="0.7" />
<line x1="278.10" y1="69.69" x2="280.70" y2="69.69" stroke="#000000" stroke-width="0.7" />
<line x1="296.40" y1="59.20" x2="296.40" y2="63.86" stroke="#000000" stroke-width="0.7" />
<line x1="295.10" y1="59.20" x2="297.70" y2="59.20" stroke="#000000" stroke-width="0.7" />
<line x1="295.10" y1="63.86" x2="297.70" y2="63.86" stroke="#000000" stroke-width="0.7" />
<line x1="313.40" y1="47.32" x2="313.40" y2="65.96" stroke="#000000" stroke-width="0.7" />
<line x1="312.10" y1="47.32" x2="314.70" y2="47.32" stroke="#000000" stroke-width="0.7" />
<line x1="312.10" y1="65.96" x2="314.70" y2="65.96" stroke="#000000" stroke-width="0.7" />
<polyline points="194.40,108.13 211.40,94.16 228.40,88.91 245.40,79.59 262.40,76.68 279.40,67.36 296.40,61.53 313.40,56.64" stroke="#000000" stroke-width="1.0" fill="none" />
<circle cx="194.40" cy="108.13" r="1.7" fill="#000000"/>
<circle cx="211.40" cy="94.16" r="1.7" fill="#000000"/>
<circle cx="228.40" cy="88.91" r="1.7" fill="#000000"/>
<circle cx="245.40" cy="79.59" r="1.7" fill="#000000"/>
<circle cx="262.40" cy="76.68" r="1.7" fill="#000000"/>
<circle cx="279.40" cy="67.36" r="1.7" fill="#000000"/>
<circle cx="296.40" cy="61.53" r="1.7" fill="#000000"/>
<circle cx="313.40" cy="56.64" r="1.7" fill="#000000"/>
<line x1="194.40" y1="106.39" x2="194.40" y2="108.72" stroke="#ee1c1c" stroke-width="0.7" />
<line x1="193.10" y1="106.39" x2="195.70" y2="106.39" stroke="#ee1c1c" stroke-width="0.7" />
<line x1="193.10" y1="108.72" x2="195.70" y2="108.72" stroke="#ee1c1c" stroke-width="0.7" />
<line x1="211.40" y1="90.66" x2="211.40" y2="94.16" stroke="#ee1c1c" stroke-width="0.7" />
<line x1="210.10" y1="90.66" x2="212.70" y2="90.66" stroke="#ee1c1c" stroke-width="0.7" />
<line x1="210.10" y1="94.16" x2="212.70" y2="94.16" stroke="#ee1c1c" stroke-width="0.7" />
<line x1="228.40" y1="84.83" x2="228.40" y2="88.33" stroke="#ee1c1c" stroke-width="0.7" />
<line x1="227.10" y1="84.83" x2="229.70" y2="84.83" stroke="#ee1c1c" stroke-width="0.7" />
<line x1="227.10" y1="88.33" x2="229.70" y2="88.33" stroke="#ee1c1c" stroke-width="0.7" />
<line x1="245.40" y1="77.84" x2="245.40" y2="82.50" stroke="#ee1c1c" stroke-width="0.7" />
<line x1="244.10" y1="77.84" x2="246.70" y2="77.84" stroke="#ee1c1c" stroke-width="0.7" />
<line x1="244.10" y1="82.50" x2="246.70" y2="82.50" stroke="#ee1c1c" stroke-width="0.7" />
<line x1="262.40" y1="76.10" x2="262.40" y2="80.76" stroke="#ee1c1c" stroke-width="0.7" />
<line x1="261.10" y1="76.10" x2="263.70" y2="76.10" stroke="#ee1c1c" stroke-width="0.7" />
<line x1="261.10" y1="80.76" x2="263.70" y2="80.76" stroke="#ee1c1c" stroke-width="0.7" />
<line x1="279.40" y1="63.86" x2="279.40" y2="70.85" stroke="#ee1c1c" stroke-width="0.7" />
<line x1="278.10" y1="63.86" x2="280.70" y2="63.86" stroke="#ee1c1c" stroke-width="0.7" />
<line x1="278.10" y1="70.85" x2="280.70" y2="70.85" stroke="#ee1c1c" stroke-width="0.7" />
<line x1="296.40" y1="60.37" x2="296.40" y2="65.03" stroke="#ee1c1c" stroke-width="0.7" />
<line x1="295.10" y1="60.37" x2="297.70" y2="60.37" stroke="#ee1c1c" stroke-width="0.7" />
<line x1="295.10" y1="65.03" x2="297.70" y2="65.03" stroke="#ee1c1c" stroke-width="0.7" />
<line x1="313.40" y1="47.32" x2="313.40" y2="65.96" stroke="#ee1c1c" stroke-width="0.7" />
<line x1="312.10" y1="47.32" x2="314.70" y2="47.32" stroke="#ee1c1c" stroke-width="0.7" />
<line x1="312.10" y1="65.96" x2="314.70" y2="65.96" stroke="#ee1c1c" stroke-width="0.7" />
<polyline points="194.40,107.55 211.40,92.41 228.40,86.58 245.40,80.17 262.40,78.43 279.40,67.36 296.40,62.70 313.40,56.64" stroke="#ee1c1c" stroke-width="1.0" fill="none" />
<circle cx="194.40" cy="107.55" r="1.7" fill="#ee1c1c"/>
<circle cx="211.40" cy="92.41" r="1.7" fill="#ee1c1c"/>
<circle cx="228.40" cy="86.58" r="1.7" fill="#ee1c1c"/>
<circle cx="245.40" cy="80.17" r="1.7" fill="#ee1c1c"/>
<circle cx="262.40" cy="78.43" r="1.7" fill="#ee1c1c"/>
<circle cx="279.40" cy="67.36" r="1.7" fill="#ee1c1c"/>
<circle cx="296.40" cy="62.70" r="1.7" fill="#ee1c1c"/>
<circle cx="313.40" cy="56.64" r="1.7" fill="#ee1c1c"/>
<line x1="194.40" y1="108.13" x2="194.40" y2="110.47" stroke="#86e8a8" stroke-width="0.7" />
<line x1="193.10" y1="108.13" x2="195.70" y2="108.13" stroke="#86e8a8" stroke-width="0.7" />
<line x1="193.10" y1="110.47" x2="195.70" y2="110.47" stroke="#86e8a8" stroke-width="0.7" />
<line x1="211.40" y1="94.74" x2="211.40" y2="98.23" stroke="#86e8a8" stroke-width="0.7" />
<line x1="210.10" y1="94.74" x2="212.70" y2="94.74" stroke="#86e8a8" stroke-width="0.7" />
<line x1="210.10" y1="98.23" x2="212.70" y2="98.23" stroke="#86e8a8" stroke-width="0.7" />
<line x1="228.40" y1="88.91" x2="228.40" y2="92.41" stroke="#86e8a8" stroke-width="0.7" />
<line x1="227.10" y1="88.91" x2="229.70" y2="88.91" stroke="#86e8a8" stroke-width="0.7" />
<line x1="227.10" y1="92.41" x2="229.70" y2="92.41" stroke="#86e8a8" stroke-width="0.7" />
<line x1="245.40" y1="81.34" x2="245.40" y2="84.83" stroke="#86e8a8" stroke-width="0.7" />
<line x1="244.10" y1="81.34" x2="246.70" y2="81.34" stroke="#86e8a8" stroke-width="0.7" />
<line x1="244.10" y1="84.83" x2="246.70" y2="84.83" stroke="#86e8a8" stroke-width="0.7" />
<line x1="262.40" y1="79.59" x2="262.40" y2="83.09" stroke="#86e8a8" stroke-width="0.7" />
<line x1="261.10" y1="79.59" x2="263.70" y2="79.59" stroke="#86e8a8" stroke-width="0.7" />
<line x1="261.10" y1="83.09" x2="263.70" y2="83.09" stroke="#86e8a8" stroke-width="0.7" />
<line x1="279.40" y1="66.19" x2="279.40" y2="70.85" stroke="#86e8a8" stroke-width="0.7" />
<line x1="278.10" y1="66.19" x2="280.70" y2="66.19" stroke="#86e8a8" stroke-width="0.7" />
<line x1="278.10" y1="70.85" x2="280.70" y2="70.85" stroke="#86e8a8" stroke-width="0.7" />
<line x1="296.40" y1="62.70" x2="296.40" y2="67.36" stroke="#86e8a8" stroke-width="0.7" />
<line x1="295.10" y1="62.70" x2="297.70" y2="62.70" stroke="#86e8a8" stroke-width="0.7" />
<line x1="295.10" y1="67.36" x2="297.70" y2="67.36" stroke="#86e8a8" stroke-width="0.7" />
<line x1="313.40" y1="54.54" x2="313.40" y2="61.53" stroke="#86e8a8" stroke-width="0.7" />
<line x1="312.10" y1="54.54" x2="314.70" y2="54.54" stroke="#86e8a8" stroke-width="0.7" />
<line x1="312.10" y1="61.53" x2="314.70" y2="61.53" stroke="#86e8a8" stroke-width="0.7" />
<polyline points="194.40,109.30 211.40,96.48 228.40,90.66 245.40,83.09 262.40,81.34 279.40,68.52 296.40,65.03 313.40,58.04" stroke="#86e8a8" stroke-width="1.0" fill="none" />
<path d="M192.80,110.40 L196.00,110.40 L194.40,107.80 Z" fill="#86e8a8"/>
<path d="M209.80,97.58 L213.00,97.58 L211.40,94.98 Z" fill="#86e8a8"/>
<path d="M226.80,91.76 L230.00,91.76 L228.40,89.16 Z" fill="#86e8a8"/>
<path d="M243.80,84.19 L247.00,84.19 L245.40,81.59 Z" fill="#86e8a8"/>
<path d="M260.80,82.44 L264.00,82.44 L262.40,79.84 Z" fill="#86e8a8"/>
<path d="M277.80,69.62 L281.00,69.62 L279.40,67.02 Z" fill="#86e8a8"/>
<path d="M294.80,66.13 L298.00,66.13 L296.40,63.53 Z" fill="#86e8a8"/>
<path d="M311.80,59.14 L315.00,59.14 L313.40,56.54 Z" fill="#86e8a8"/>
<line x1="194.40" y1="111.05" x2="194.40" y2="114.54" stroke="#1fae2f" stroke-width="0.7" />
<line x1="193.10" y1="111.05" x2="195.70" y2="111.05" stroke="#1fae2f" stroke-width="0.7" />
<line x1="193.10" y1="114.54" x2="195.70" y2="114.54" stroke="#1fae2f" stroke-width="0.7" />
<line x1="211.40" y1="100.56" x2="211.40" y2="104.06" stroke="#1fae2f" stroke-width="0.7" />
<line x1="210.10" y1="100.56" x2="212.70" y2="100.56" stroke="#1fae2f" stroke-width="0.7" />
<line x1="210.10" y1="104.06" x2="212.70" y2="104.06" stroke="#1fae2f" stroke-width="0.7" />
<line x1="228.40" y1="95.90" x2="228.40" y2="99.40" stroke="#1fae2f" stroke-width="0.7" />
<line x1="227.10" y1="95.90" x2="229.70" y2="95.90" stroke="#1fae2f" stroke-width="0.7" />
<line x1="227.10" y1="99.40" x2="229.70" y2="99.40" stroke="#1fae2f" stroke-width="0.7" />
<line x1="245.40" y1="97.07" x2="245.40" y2="99.40" stroke="#1fae2f" stroke-width="0.7" />
<line x1="244.10" y1="97.07" x2="246.70" y2="97.07" stroke="#1fae2f" stroke-width="0.7" />
<line x1="244.10" y1="99.40" x2="246.70" y2="99.40" stroke="#1fae2f" stroke-width="0.7" />
<line x1="262.40" y1="97.07" x2="262.40" y2="99.40" stroke="#1fae2f" stroke-width="0.7" />
<line x1="261.10" y1="97.07" x2="263.70" y2="97.07" stroke="#1fae2f" stroke-width="0.7" />
<line x1="261.10" y1="99.40" x2="263.70" y2="99.40" stroke="#1fae2f" stroke-width="0.7" />
<line x1="279.40" y1="93.57" x2="279.40" y2="97.07" stroke="#1fae2f" stroke-width="0.7" />
<line x1="278.10" y1="93.57" x2="280.70" y2="93.57" stroke="#1fae2f" stroke-width="0.7" />
<line x1="278.10" y1="97.07" x2="280.70" y2="97.07" stroke="#1fae2f" stroke-width="0.7" />
<line x1="296.40" y1="89.49" x2="296.40" y2="101.14" stroke="#1fae2f" stroke-width="0.7" />
<line x1="295.10" y1="89.49" x2="297.70" y2="89.49" stroke="#1fae2f" stroke-width="0.7" />
<line x1="295.10" y1="101.14" x2="297.70" y2="101.14" stroke="#1fae2f" stroke-width="0.7" />
<line x1="313.40" y1="86.58" x2="313.40" y2="92.41" stroke="#1fae2f" stroke-width="0.7" />
<line x1="312.10" y1="86.58" x2="314.70" y2="86.58" stroke="#1fae2f" stroke-width="0.7" />
<line x1="312.10" y1="92.41" x2="314.70" y2="92.41" stroke="#1fae2f" stroke-width="0.7" />
<polyline points="194.40,112.80 211.40,102.31 228.40,97.65 245.40,98.23 262.40,98.23 279.40,95.32 296.40,95.32 313.40,89.50" stroke="#1fae2f" stroke-width="1.0" fill="none" />
<path d="M194.40,111.30 L195.90,112.80 L194.40,114.30 L192.90,112.80 Z" fill="#1fae2f"/>
<path d="M211.40,100.81 L212.90,102.31 L211.40,103.81 L209.90,102.31 Z" fill="#1fae2f"/>
<path d="M228.40,96.15 L229.90,97.65 L228.40,99.15 L226.90,97.65 Z" fill="#1fae2f"/>
<path d="M245.40,96.73 L246.90,98.23 L245.40,99.73 L243.90,98.23 Z" fill="#1fae2f"/>
<path d="M262.40,96.73 L263.90,98.23 L262.40,99.73 L260.90,98.23 Z" fill="#1fae2f"/>
<path d="M279.40,93.82 L280.90,95.32 L279.40,96.82 L277.90,95.32 Z" fill="#1fae2f"/>
<path d="M296.40,93.82 L297.90,95.32 L296.40,96.82 L294.90,95.32 Z" fill="#1fae2f"/>
<path d="M313.40,88.00 L314.90,89.50 L313.40,91.00 L311.90,89.50 Z" fill="#1fae2f"/>
<line x1="194.40" y1="112.21" x2="194.40" y2="115.71" stroke="#17832a" stroke-width="0.7" />
<line x1="193.10" y1="112.21" x2="195.70" y2="112.21" stroke="#17832a" stroke-width="0.7" />
<line x1="193.10" y1="115.71" x2="195.70" y2="115.71" stroke="#17832a" stroke-width="0.7" />
<line x1="211.40" y1="108.13" x2="211.40" y2="110.47" stroke="#17832a" stroke-width="0.7" />
<line x1="210.10" y1="108.13" x2="212.70" y2="108.13" stroke="#17832a" stroke-width="0.7" />
<line x1="210.10" y1="110.47" x2="212.70" y2="110.47" stroke="#17832a" stroke-width="0.7" />
<line x1="228.40" y1="102.89" x2="228.40" y2="107.55" stroke="#17832a" stroke-width="0.7" />
<line x1="227.10" y1="102.89" x2="229.70" y2="102.89" stroke="#17832a" stroke-width="0.7" />
<line x1="227.10" y1="107.55" x2="229.70" y2="107.55" stroke="#17832a" stroke-width="0.7" />
<line x1="245.40" y1="104.64" x2="245.40" y2="106.97" stroke="#17832a" stroke-width="0.7" />
<line x1="244.10" y1="104.64" x2="246.70" y2="104.64" stroke="#17832a" stroke-width="0.7" />
<line x1="244.10" y1="106.97" x2="246.70" y2="106.97" stroke="#17832a" stroke-width="0.7" />
<line x1="262.40" y1="111.05" x2="262.40" y2="114.54" stroke="#17832a" stroke-width="0.7" />
<line x1="261.10" y1="111.05" x2="263.70" y2="111.05" stroke="#17832a" stroke-width="0.7" />
<line x1="261.10" y1="114.54" x2="263.70" y2="114.54" stroke="#17832a" stroke-width="0.7" />
<line x1="279.40" y1="102.31" x2="279.40" y2="106.97" stroke="#17832a" stroke-width="0.7" />
<line x1="278.10" y1="102.31" x2="280.70" y2="102.31" stroke="#17832a" stroke-width="0.7" />
<line x1="278.10" y1="106.97" x2="280.70" y2="106.97" stroke="#17832a" stroke-width="0.7" />
<line x1="296.40" y1="115.71" x2="296.40" y2="122.70" stroke="#17832a" stroke-width="0.7" />
<line x1="295.10" y1="115.71" x2="297.70" y2="115.71" stroke="#17832a" stroke-width="0.7" />
<line x1="295.10" y1="122.70" x2="297.70" y2="122.70" stroke="#17832a" stroke-width="0.7" />
<line x1="313.40" y1="119.78" x2="313.40" y2="122.12" stroke="#17832a" stroke-width="0.7" />
<line x1="312.10" y1="119.78" x2="314.70" y2="119.78" stroke="#17832a" stroke-width="0.7" />
<line x1="312.10" y1="122.12" x2="314.70" y2="122.12" stroke="#17832a" stroke-width="0.7" />
<polyline points="194.40,113.96 211.40,109.30 228.40,105.22 245.40,105.80 262.40,112.80 279.40,104.64 296.40,119.20 313.40,120.95" stroke="#17832a" stroke-width="1.0" fill="none" />
<circle cx="194.40" cy="113.96" r="1.7" fill="#17832a"/>
<circle cx="211.40" cy="109.30" r="1.7" fill="#17832a"/>
<circle cx="228.40" cy="105.22" r="1.7" fill="#17832a"/>
<circle cx="245.40" cy="105.80" r="1.7" fill="#17832a"/>
<circle cx="262.40" cy="112.80" r="1.7" fill="#17832a"/>
<circle cx="279.40" cy="104.64" r="1.7" fill="#17832a"/>
<circle cx="296.40" cy="119.20" r="1.7" fill="#17832a"/>
<circle cx="313.40" cy="120.95" r="1.7" fill="#17832a"/>
<line x1="194.40" y1="109.88" x2="194.40" y2="113.38" stroke="#33dd33" stroke-width="0.7" />
<line x1="193.10" y1="109.88" x2="195.70" y2="109.88" stroke="#33dd33" stroke-width="0.7" />
<line x1="193.10" y1="113.38" x2="195.70" y2="113.38" stroke="#33dd33" stroke-width="0.7" />
<line x1="211.40" y1="97.07" x2="211.40" y2="100.56" stroke="#33dd33" stroke-width="0.7" />
<line x1="210.10" y1="97.07" x2="212.70" y2="97.07" stroke="#33dd33" stroke-width="0.7" />
<line x1="210.10" y1="100.56" x2="212.70" y2="100.56" stroke="#33dd33" stroke-width="0.7" />
<line x1="228.40" y1="92.41" x2="228.40" y2="95.90" stroke="#33dd33" stroke-width="0.7" />
<line x1="227.10" y1="92.41" x2="229.70" y2="92.41" stroke="#33dd33" stroke-width="0.7" />
<line x1="227.10" y1="95.90" x2="229.70" y2="95.90" stroke="#33dd33" stroke-width="0.7" />
<line x1="245.40" y1="87.17" x2="245.40" y2="91.83" stroke="#33dd33" stroke-width="0.7" />
<line x1="244.10" y1="87.17" x2="246.70" y2="87.17" stroke="#33dd33" stroke-width="0.7" />
<line x1="244.10" y1="91.83" x2="246.70" y2="91.83" stroke="#33dd33" stroke-width="0.7" />
<line x1="262.40" y1="88.91" x2="262.40" y2="93.57" stroke="#33dd33" stroke-width="0.7" />
<line x1="261.10" y1="88.91" x2="263.70" y2="88.91" stroke="#33dd33" stroke-width="0.7" />
<line x1="261.10" y1="93.57" x2="263.70" y2="93.57" stroke="#33dd33" stroke-width="0.7" />
<line x1="279.40" y1="82.50" x2="279.40" y2="87.16" stroke="#33dd33" stroke-width="0.7" />
<line x1="278.10" y1="82.50" x2="280.70" y2="82.50" stroke="#33dd33" stroke-width="0.7" />
<line x1="278.10" y1="87.16" x2="280.70" y2="87.16" stroke="#33dd33" stroke-width="0.7" />
<line x1="296.40" y1="81.34" x2="296.40" y2="87.16" stroke="#33dd33" stroke-width="0.7" />
<line x1="295.10" y1="81.34" x2="297.70" y2="81.34" stroke="#33dd33" stroke-width="0.7" />
<line x1="295.10" y1="87.16" x2="297.70" y2="87.16" stroke="#33dd33" stroke-width="0.7" />
<line x1="313.40" y1="74.93" x2="313.40" y2="91.24" stroke="#33dd33" stroke-width="0.7" />
<line x1="312.10" y1="74.93" x2="314.70" y2="74.93" stroke="#33dd33" stroke-width="0.7" />
<line x1="312.10" y1="91.24" x2="314.70" y2="91.24" stroke="#33dd33" stroke-width="0.7" />
<polyline points="194.40,111.63 211.40,98.81 228.40,94.16 245.40,89.50 262.40,91.24 279.40,84.83 296.40,84.25 313.40,83.09" stroke="#33dd33" stroke-width="1.0" fill="none" />
<path d="M192.80,110.53 L196.00,110.53 L194.40,113.13 Z" fill="#33dd33"/>
<path d="M209.80,97.72 L213.00,97.72 L211.40,100.31 Z" fill="#33dd33"/>
<path d="M226.80,93.06 L230.00,93.06 L228.40,95.66 Z" fill="#33dd33"/>
<path d="M243.80,88.40 L247.00,88.40 L245.40,91.00 Z" fill="#33dd33"/>
<path d="M260.80,90.14 L264.00,90.14 L262.40,92.74 Z" fill="#33dd33"/>
<path d="M277.80,83.73 L281.00,83.73 L279.40,86.33 Z" fill="#33dd33"/>
<path d="M294.80,83.15 L298.00,83.15 L296.40,85.75 Z" fill="#33dd33"/>
<path d="M311.80,81.99 L315.00,81.99 L313.40,84.59 Z" fill="#33dd33"/>
<line x1="192.50" y1="44.20" x2="198.50" y2="44.20" stroke="#000000" stroke-width="0.9" />
<circle cx="195.50" cy="44.20" r="1.7" fill="#000000"/>
<text x="203.00" y="46.70" font-size="5.7" font-family="'Liberation Sans', Arial, sans-serif" fill="#111" >Control</text>
<line x1="192.50" y1="49.80" x2="198.50" y2="49.80" stroke="#ee1c1c" stroke-width="0.9" />
<circle cx="195.50" cy="49.80" r="1.7" fill="#ee1c1c"/>
<text x="203.00" y="52.30" font-size="5.7" font-family="'Liberation Sans', Arial, sans-serif" fill="#111" >IgG 20ug/ml</text>
<line x1="192.50" y1="54.80" x2="198.50" y2="54.80" stroke="#86e8a8" stroke-width="0.9" />
<path d="M193.90,55.90 L197.10,55.90 L195.50,53.30 Z" fill="#86e8a8"/>
<text x="203.00" y="57.30" font-size="5.7" font-family="'Liberation Sans', Arial, sans-serif" fill="#111" >hu14 1ug/ml</text>
<line x1="192.50" y1="59.60" x2="198.50" y2="59.60" stroke="#33dd33" stroke-width="0.9" />
<path d="M193.90,58.50 L197.10,58.50 L195.50,61.10 Z" fill="#33dd33"/>
<text x="203.00" y="62.10" font-size="5.7" font-family="'Liberation Sans', Arial, sans-serif" fill="#111" >hu14 5ug/ml</text>
<line x1="192.50" y1="65.00" x2="198.50" y2="65.00" stroke="#1fae2f" stroke-width="0.9" />
<path d="M195.50,63.50 L197.00,65.00 L195.50,66.50 L194.00,65.00 Z" fill="#1fae2f"/>
<text x="203.00" y="67.50" font-size="5.7" font-family="'Liberation Sans', Arial, sans-serif" fill="#111" >hu14 10ug/ml</text>
<line x1="192.50" y1="70.00" x2="198.50" y2="70.00" stroke="#17832a" stroke-width="0.9" />
<circle cx="195.50" cy="70.00" r="1.7" fill="#17832a"/>
<text x="203.00" y="72.50" font-size="5.7" font-family="'Liberation Sans', Arial, sans-serif" fill="#111" >hu14 20ug/ml</text>
<polyline points="237.80,49.20 241.00,49.20 241.00,59.60 237.80,59.60" stroke="#111" stroke-width="1.1" fill="none" />
<polyline points="242.20,49.20 245.10,49.20 245.10,65.50 242.20,65.50" stroke="#111" stroke-width="1.1" fill="none" />
<polyline points="246.20,49.20 249.00,49.20 249.00,70.00 246.20,70.00" stroke="#111" stroke-width="1.1" fill="none" />
<text x="252.10" y="63.20" font-size="7.4" font-family="'Liberation Sans', Arial, sans-serif" fill="#000" font-weight="bold" letter-spacing="1.05" stroke="#000" stroke-width="0.55" stroke-linejoin="round" filter="url(#blurst)">***</text>
<text x="15.90" y="85.90" font-size="6.4" font-family="'Liberation Sans', Arial, sans-serif" fill="#111" font-weight="bold" text-anchor="middle" textLength="77" lengthAdjust="spacingAndGlyphs" transform="rotate(-90 15.90 85.90)" >Increase in OD (percent)</text>
<text x="394.50" y="12.80" font-size="8.4" font-family="'Liberation Sans', Arial, sans-serif" fill="#111" font-weight="bold" text-anchor="middle" textLength="13" lengthAdjust="spacingAndGlyphs" >IgG</text>
<clipPath id="pc1"><circle cx="393.2" cy="49.6" r="32.8"/></clipPath>
<g clip-path="url(#pc1)">
<circle cx="393.2" cy="49.6" r="32.8" fill="#b8bfd7"/>
<circle cx="395.2" cy="52.1" r="29.6" fill="#c6cde2" filter="url(#blur1)"/>
<ellipse cx="398.1" cy="62.1" rx="23.0" ry="3.3" fill="#d0d6e8" opacity="0.5" filter="url(#blur1)"/>
</g>
<circle cx="393.2" cy="49.6" r="32.4" fill="none" stroke="#adb4cc" stroke-width="0.8" opacity="0.6"/>
<g filter="url(#blur05)"><circle cx="394.7" cy="68.9" r="0.5" fill="#5252a8" opacity="0.56"/><circle cx="373.5" cy="52.8" r="0.6" fill="#5252a8" opacity="0.16"/><circle cx="400.2" cy="38.2" r="0.45" fill="#5252a8" opacity="0.24"/><circle cx="389.2" cy="30.7" r="0.6" fill="#5252a8" opacity="0.36"/><circle cx="386.7" cy="41.8" r="0.8" fill="#5252a8" opacity="0.22"/><circle cx="407.8" cy="42.2" r="0.35" fill="#5252a8" opacity="0.45"/><circle cx="414.2" cy="58.5" r="0.6" fill="#5252a8" opacity="0.17"/><circle cx="397.7" cy="26.2" r="0.5" fill="#5252a8" opacity="0.36"/><circle cx="388.4" cy="25.5" r="0.8" fill="#5252a8" opacity="0.50"/><circle cx="373.1" cy="59.5" r="0.6" fill="#5252a8" opacity="0.35"/><circle cx="415.8" cy="39.9" r="0.35" fill="#5252a8" opacity="0.17"/><circle cx="379.9" cy="50.0" r="0.8" fill="#5252a8" opacity="0.35"/><circle cx="383.1" cy="39.3" r="0.6" fill="#5252a8" opacity="0.53"/><circle cx="376.1" cy="41.0" r="0.5" fill="#5252a8" opacity="0.41"/><circle cx="411.1" cy="37.3" r="0.35" fill="#5252a8" opacity="0.54"/><circle cx="414.7" cy="48.4" r="0.45" fill="#5252a8" opacity="0.46"/><circle cx="384.3" cy="66.7" r="0.6" fill="#5252a8" opacity="0.41"/><circle cx="390.5" cy="37.9" r="0.6" fill="#5252a8" opacity="0.27"/><circle cx="406.1" cy="62.4" r="0.8" fill="#5252a8" opacity="0.60"/><circle cx="413.1" cy="62.0" r="0.5" fill="#5252a8" opacity="0.55"/><circle cx="410.2" cy="51.8" r="0.5" fill="#5252a8" opacity="0.54"/><circle cx="413.0" cy="55.2" r="0.35" fill="#5252a8" opacity="0.32"/><circle cx="376.5" cy="39.5" r="0.5" fill="#5252a8" opacity="0.38"/><circle cx="407.8" cy="49.5" r="0.35" fill="#5252a8" opacity="0.20"/><circle cx="368.3" cy="43.9" r="0.5" fill="#5252a8" opacity="0.28"/><circle cx="391.4" cy="71.3" r="0.5" fill="#5252a8" opacity="0.29"/><circle cx="417.2" cy="43.2" r="0.5" fill="#5252a8" opacity="0.32"/><circle cx="404.4" cy="37.7" r="0.6" fill="#5252a8" opacity="0.46"/><circle cx="413.9" cy="65.1" r="0.6" fill="#5252a8" opacity="0.27"/><circle cx="378.4" cy="33.0" r="0.5" fill="#5252a8" opacity="0.35"/><circle cx="392.5" cy="64.0" r="0.5" fill="#5252a8" opacity="0.16"/><circle cx="376.0" cy="59.7" r="0.35" fill="#5252a8" opacity="0.32"/><circle cx="385.1" cy="44.5" r="0.8" fill="#5252a8" opacity="0.43"/><circle cx="372.1" cy="54.2" r="0.5" fill="#5252a8" opacity="0.42"/><circle cx="389.9" cy="67.7" r="0.6" fill="#5252a8" opacity="0.18"/><circle cx="381.7" cy="26.6" r="0.5" fill="#5252a8" opacity="0.43"/><circle cx="387.1" cy="69.0" r="0.45" fill="#5252a8" opacity="0.31"/><circle cx="387.1" cy="64.3" r="0.6" fill="#5252a8" opacity="0.27"/><circle cx="395.2" cy="41.3" r="0.35" fill="#5252a8" opacity="0.59"/><circle cx="389.4" cy="40.9" r="0.6" fill="#5252a8" opacity="0.25"/><circle cx="397.5" cy="37.5" r="0.45" fill="#5252a8" opacity="0.46"/><circle cx="388.4" cy="43.0" r="0.6" fill="#5252a8" opacity="0.29"/><circle cx="381.2" cy="70.3" r="0.5" fill="#5252a8" opacity="0.51"/><circle cx="400.4" cy="47.8" r="0.8" fill="#5252a8" opacity="0.44"/><circle cx="406.4" cy="37.9" r="0.45" fill="#5252a8" opacity="0.50"/><circle cx="418.3" cy="55.0" r="0.5" fill="#5252a8" opacity="0.51"/><circle cx="399.1" cy="40.0" r="0.5" fill="#5252a8" opacity="0.30"/><circle cx="396.8" cy="42.8" r="0.6" fill="#5252a8" opacity="0.31"/><circle cx="402.9" cy="59.9" r="0.5" fill="#5252a8" opacity="0.36"/><circle cx="383.8" cy="39.0" r="0.6" fill="#5252a8" opacity="0.33"/><circle cx="402.3" cy="44.6" r="0.35" fill="#5252a8" opacity="0.36"/><circle cx="403.5" cy="31.6" r="0.6" fill="#5252a8" opacity="0.35"/><circle cx="417.2" cy="41.8" r="0.45" fill="#5252a8" opacity="0.16"/><circle cx="371.3" cy="55.7" r="0.8" fill="#5252a8" opacity="0.38"/><circle cx="389.5" cy="64.5" r="0.45" fill="#5252a8" opacity="0.54"/><circle cx="409.4" cy="29.5" r="0.35" fill="#5252a8" opacity="0.51"/><circle cx="417.1" cy="56.6" r="0.8" fill="#5252a8" opacity="0.38"/><circle cx="401.0" cy="73.0" r="0.5" fill="#5252a8" opacity="0.41"/><circle cx="415.8" cy="51.5" r="0.45" fill="#5252a8" opacity="0.38"/><circle cx="393.5" cy="53.3" r="0.6" fill="#5252a8" opacity="0.34"/><circle cx="412.2" cy="41.9" r="0.5" fill="#5252a8" opacity="0.21"/><circle cx="412.2" cy="46.2" r="0.35" fill="#5252a8" opacity="0.31"/><circle cx="399.4" cy="67.7" r="0.35" fill="#5252a8" opacity="0.23"/><circle cx="399.7" cy="25.3" r="0.45" fill="#5252a8" opacity="0.52"/><circle cx="414.0" cy="50.6" r="0.5" fill="#5252a8" opacity="0.17"/><circle cx="391.4" cy="63.1" r="0.6" fill="#5252a8" opacity="0.38"/><circle cx="407.4" cy="54.3" r="0.35" fill="#5252a8" opacity="0.54"/><circle cx="394.1" cy="44.0" r="0.35" fill="#5252a8" opacity="0.18"/><circle cx="417.1" cy="45.8" r="0.35" fill="#5252a8" opacity="0.38"/><circle cx="382.8" cy="50.3" r="0.35" fill="#5252a8" opacity="0.31"/><circle cx="381.1" cy="33.6" r="0.5" fill="#5252a8" opacity="0.27"/><circle cx="410.3" cy="48.3" r="0.45" fill="#5252a8" opacity="0.40"/><circle cx="389.8" cy="33.8" r="0.35" fill="#5252a8" opacity="0.41"/><circle cx="410.4" cy="54.4" r="0.8" fill="#5252a8" opacity="0.50"/><circle cx="376.1" cy="65.6" r="0.6" fill="#5252a8" opacity="0.55"/><circle cx="412.8" cy="56.4" r="0.8" fill="#5252a8" opacity="0.29"/><circle cx="409.3" cy="44.4" r="0.35" fill="#5252a8" opacity="0.26"/><circle cx="371.9" cy="44.7" r="0.35" fill="#5252a8" opacity="0.51"/><circle cx="394.7" cy="59.0" r="0.35" fill="#5252a8" opacity="0.57"/><circle cx="375.7" cy="67.3" r="0.5" fill="#5252a8" opacity="0.20"/></g>
<text x="394.00" y="90.20" font-size="8.6" font-family="'Liberation Sans', Arial, sans-serif" fill="#111" font-weight="bold" text-anchor="middle" textLength="20.6" lengthAdjust="spacingAndGlyphs" >hu14</text>
<clipPath id="pc2"><circle cx="394.2" cy="125.8" r="33.2"/></clipPath>
<g clip-path="url(#pc2)">
<circle cx="394.2" cy="125.8" r="33.2" fill="#b5bcd5"/>
<circle cx="399.2" cy="129.3" r="30.0" fill="#c6cde3" filter="url(#blur1)"/>
<ellipse cx="399.2" cy="138.4" rx="23.2" ry="3.3" fill="#d0d6e8" opacity="0.5" filter="url(#blur1)"/>
</g>
<circle cx="394.2" cy="125.8" r="32.8" fill="none" stroke="#adb4cc" stroke-width="0.8" opacity="0.6"/>
<g filter="url(#blur05)"><circle cx="374.0" cy="132.0" r="0.5" fill="#5252a8" opacity="0.35"/><circle cx="401.7" cy="116.1" r="0.6" fill="#5252a8" opacity="0.36"/><circle cx="385.0" cy="117.8" r="0.5" fill="#5252a8" opacity="0.29"/><circle cx="415.6" cy="139.5" r="0.8" fill="#5252a8" opacity="0.44"/><circle cx="379.5" cy="115.8" r="0.5" fill="#5252a8" opacity="0.44"/><circle cx="385.8" cy="118.4" r="0.35" fill="#5252a8" opacity="0.52"/><circle cx="399.1" cy="127.9" r="0.45" fill="#5252a8" opacity="0.42"/><circle cx="397.0" cy="109.9" r="0.6" fill="#5252a8" opacity="0.53"/><circle cx="371.8" cy="123.1" r="0.5" fill="#5252a8" opacity="0.15"/><circle cx="413.9" cy="137.4" r="0.5" fill="#5252a8" opacity="0.60"/><circle cx="420.1" cy="125.1" r="0.8" fill="#5252a8" opacity="0.26"/><circle cx="395.2" cy="105.6" r="0.35" fill="#5252a8" opacity="0.18"/><circle cx="396.0" cy="108.0" r="0.5" fill="#5252a8" opacity="0.32"/><circle cx="419.3" cy="119.0" r="0.35" fill="#5252a8" opacity="0.25"/><circle cx="400.0" cy="122.9" r="0.5" fill="#5252a8" opacity="0.59"/><circle cx="388.1" cy="130.4" r="0.8" fill="#5252a8" opacity="0.24"/><circle cx="386.8" cy="111.2" r="0.5" fill="#5252a8" opacity="0.30"/><circle cx="418.1" cy="120.3" r="0.35" fill="#5252a8" opacity="0.21"/><circle cx="393.4" cy="123.0" r="0.5" fill="#5252a8" opacity="0.51"/><circle cx="403.5" cy="144.8" r="0.5" fill="#5252a8" opacity="0.38"/><circle cx="418.8" cy="123.5" r="0.5" fill="#5252a8" opacity="0.44"/><circle cx="407.8" cy="138.0" r="0.45" fill="#5252a8" opacity="0.15"/></g>
<text x="352.60" y="76.30" font-size="12.6" font-family="'Liberation Sans', Arial, sans-serif" fill="#111" font-weight="bold" text-anchor="middle" textLength="41.6" lengthAdjust="spacingAndGlyphs" transform="rotate(-90 352.60 76.30)" stroke="#111" stroke-width="0.3">CHLA15</text>
<line x1="472.00" y1="24.40" x2="472.00" y2="131.00" stroke="#111" stroke-width="1.4" />
<line x1="472.00" y1="131.00" x2="544.40" y2="131.00" stroke="#111" stroke-width="1.4" />
<line x1="469.00" y1="24.38" x2="472.00" y2="24.38" stroke="#111" stroke-width="1" />
<text x="467.80" y="26.98" font-size="7.3" font-family="'Liberation Sans', Arial, sans-serif" fill="#111" font-weight="bold" text-anchor="end" >125</text>
<line x1="469.00" y1="45.70" x2="472.00" y2="45.70" stroke="#111" stroke-width="1" />
<text x="467.80" y="48.30" font-size="7.3" font-family="'Liberation Sans', Arial, sans-serif" fill="#111" font-weight="bold" text-anchor="end" >100</text>
<line x1="469.00" y1="67.03" x2="472.00" y2="67.03" stroke="#111" stroke-width="1" />
<text x="467.80" y="69.62" font-size="7.3" font-family="'Liberation Sans', Arial, sans-serif" fill="#111" font-weight="bold" text-anchor="end" >75</text>
<line x1="469.00" y1="88.35" x2="472.00" y2="88.35" stroke="#111" stroke-width="1" />
<text x="467.80" y="90.95" font-size="7.3" font-family="'Liberation Sans', Arial, sans-serif" fill="#111" font-weight="bold" text-anchor="end" >50</text>
<line x1="469.00" y1="109.67" x2="472.00" y2="109.67" stroke="#111" stroke-width="1" />
<text x="467.80" y="112.27" font-size="7.3" font-family="'Liberation Sans', Arial, sans-serif" fill="#111" font-weight="bold" text-anchor="end" >25</text>
<line x1="469.00" y1="131.00" x2="472.00" y2="131.00" stroke="#111" stroke-width="1" />
<text x="467.80" y="133.60" font-size="7.3" font-family="'Liberation Sans', Arial, sans-serif" fill="#111" font-weight="bold" text-anchor="end" >0</text>
<rect x="483.2" y="56.79" width="19.8" height="74.21" fill="#000"/>
<line x1="493.10" y1="56.79" x2="493.10" y2="46.55" stroke="#111" stroke-width="1" />
<line x1="489.00" y1="46.55" x2="497.50" y2="46.55" stroke="#111" stroke-width="1" />
<rect x="514.1" y="113.09" width="19.2" height="17.41" fill="#a3a3a3" stroke="#111" stroke-width="1"/>
<line x1="523.70" y1="113.09" x2="523.70" y2="110.53" stroke="#111" stroke-width="1" />
<line x1="519.50" y1="110.53" x2="528.00" y2="110.53" stroke="#111" stroke-width="1" />
<line x1="493.10" y1="131.00" x2="493.10" y2="134.00" stroke="#111" stroke-width="1" />
<line x1="523.70" y1="131.00" x2="523.70" y2="134.00" stroke="#111" stroke-width="1" />
<text x="493.10" y="144.40" font-size="8.3" font-family="'Liberation Sans', Arial, sans-serif" fill="#111" font-weight="bold" text-anchor="middle" textLength="13.4" lengthAdjust="spacingAndGlyphs" >IgG</text>
<text x="523.70" y="144.40" font-size="8.3" font-family="'Liberation Sans', Arial, sans-serif" fill="#111" font-weight="bold" text-anchor="middle" textLength="19.6" lengthAdjust="spacingAndGlyphs" >hu14</text>
<polyline points="494.40,43.20 494.40,38.40 524.00,38.40 524.00,43.20" stroke="#111" stroke-width="1.1" fill="none" />
<text x="500.00" y="38.10" font-size="12.0" font-family="'Liberation Sans', Arial, sans-serif" fill="#000" font-weight="bold" letter-spacing="1.55" stroke="#000" stroke-width="0.5" filter="url(#blurst)">***</text>
<text x="449.30" y="78.00" font-size="8.6" font-family="'Liberation Sans', Arial, sans-serif" fill="#111" font-weight="bold" text-anchor="middle" textLength="80" lengthAdjust="spacingAndGlyphs" transform="rotate(-90 449.30 78.00)" >Number of colonies</text>
<path d="M60.80,272.30 L60.80,180.60 L150.10,180.60 L150.10,272.30" stroke="#8a8a8a" stroke-width="0.9" fill="none"/>
<line x1="60.80" y1="272.30" x2="150.10" y2="272.30" stroke="#444" stroke-width="0.8" />
<line x1="59.30" y1="190.20" x2="60.80" y2="190.20" stroke="#555" stroke-width="0.6" />
<text x="59.20" y="192.60" font-size="7.0" font-family="'Liberation Sans', Arial, sans-serif" fill="#222" text-anchor="end" textLength="8.25" lengthAdjust="spacingAndGlyphs" >100</text>
<line x1="59.30" y1="206.62" x2="60.80" y2="206.62" stroke="#555" stroke-width="0.6" />
<text x="59.20" y="209.02" font-size="7.0" font-family="'Liberation Sans', Arial, sans-serif" fill="#222" text-anchor="end" textLength="5.5" lengthAdjust="spacingAndGlyphs" >80</text>
<line x1="59.30" y1="223.04" x2="60.80" y2="223.04" stroke="#555" stroke-width="0.6" />
<text x="59.20" y="225.44" font-size="7.0" font-family="'Liberation Sans', Arial, sans-serif" fill="#222" text-anchor="end" textLength="5.5" lengthAdjust="spacingAndGlyphs" >60</text>
<line x1="59.30" y1="239.46" x2="60.80" y2="239.46" stroke="#555" stroke-width="0.6" />
<text x="59.20" y="241.86" font-size="7.0" font-family="'Liberation Sans', Arial, sans-serif" fill="#222" text-anchor="end" textLength="5.5" lengthAdjust="spacingAndGlyphs" >40</text>
<line x1="59.30" y1="255.88" x2="60.80" y2="255.88" stroke="#555" stroke-width="0.6" />
<text x="59.20" y="258.28" font-size="7.0" font-family="'Liberation Sans', Arial, sans-serif" fill="#222" text-anchor="end" textLength="5.5" lengthAdjust="spacingAndGlyphs" >20</text>
<line x1="59.30" y1="272.30" x2="60.80" y2="272.30" stroke="#555" stroke-width="0.6" />
<text x="59.20" y="274.70" font-size="7.0" font-family="'Liberation Sans', Arial, sans-serif" fill="#222" text-anchor="end" textLength="2.75" lengthAdjust="spacingAndGlyphs" >0</text>
<line x1="76.40" y1="272.30" x2="76.40" y2="273.50" stroke="#555" stroke-width="0.6" />
<text x="76.40" y="283.30" font-size="8.4" font-family="'Liberation Sans', Arial, sans-serif" fill="#1a1a1a" text-anchor="middle" textLength="8.0" lengthAdjust="spacingAndGlyphs" >100</text>
<line x1="91.14" y1="272.30" x2="91.14" y2="273.50" stroke="#555" stroke-width="0.6" />
<text x="91.14" y="283.30" font-size="8.4" font-family="'Liberation Sans', Arial, sans-serif" fill="#1a1a1a" text-anchor="middle" textLength="8.0" lengthAdjust="spacingAndGlyphs" >200</text>
<line x1="105.88" y1="272.30" x2="105.88" y2="273.50" stroke="#555" stroke-width="0.6" />
<text x="105.88" y="283.30" font-size="8.4" font-family="'Liberation Sans', Arial, sans-serif" fill="#1a1a1a" text-anchor="middle" textLength="8.0" lengthAdjust="spacingAndGlyphs" >300</text>
<line x1="120.62" y1="272.30" x2="120.62" y2="273.50" stroke="#555" stroke-width="0.6" />
<text x="120.62" y="283.30" font-size="8.4" font-family="'Liberation Sans', Arial, sans-serif" fill="#1a1a1a" text-anchor="middle" textLength="8.0" lengthAdjust="spacingAndGlyphs" >400</text>
<line x1="135.36" y1="272.30" x2="135.36" y2="273.50" stroke="#555" stroke-width="0.6" />
<text x="135.36" y="283.30" font-size="8.4" font-family="'Liberation Sans', Arial, sans-serif" fill="#1a1a1a" text-anchor="middle" textLength="8.0" lengthAdjust="spacingAndGlyphs" >500</text>
<line x1="150.10" y1="272.30" x2="150.10" y2="273.50" stroke="#555" stroke-width="0.6" />
<text x="150.10" y="283.30" font-size="8.4" font-family="'Liberation Sans', Arial, sans-serif" fill="#1a1a1a" text-anchor="middle" textLength="8.0" lengthAdjust="spacingAndGlyphs" >600</text>
<clipPath id="hc3"><path d="M75.80,272.30 L75.80,272.30 L78.00,270.50 L80.80,266.00 L82.50,262.00 L84.10,256.00 L84.80,248.00 L86.20,240.00 L87.80,232.60 L88.80,220.00 L89.60,204.00 L90.20,195.00 L90.70,186.40 L91.50,193.00 L92.90,204.00 L93.50,220.00 L94.20,233.00 L95.80,248.00 L97.00,254.00 L98.40,258.50 L99.00,259.20 L99.00,260.05 L100.00,261.13 L101.00,262.09 L101.75,262.63 L102.50,262.48 L103.25,263.09 L104.00,261.56 L104.75,262.62 L105.50,263.76 L106.25,263.36 L107.00,264.05 L107.75,262.66 L108.50,263.56 L109.25,263.31 L110.00,264.09 L110.72,264.28 L111.43,263.29 L112.15,263.83 L112.87,264.09 L113.58,265.50 L114.30,264.80 L114.30,265.00 L116.00,264.60 L118.00,264.00 L120.00,263.20 L121.80,262.40 L123.00,263.60 L124.50,265.50 L126.00,267.50 L127.50,269.60 L129.00,271.50 L130.00,272.30 L130.00,272.30 Z"/></clipPath>
<g clip-path="url(#hc3)"><rect x="74.80" y="180.60" width="24.20" height="91.70" fill="#4649f6"/><rect x="99.00" y="180.60" width="15.30" height="91.70" fill="#f84f4f"/><rect x="114.30" y="180.60" width="14.70" height="91.70" fill="#14cc52"/><rect x="129.00" y="180.60" width="3.00" height="91.70" fill="#9ad8a4"/></g>
<path d="M75.80,272.30 L78.00,270.50 L80.80,266.00 L82.50,262.00 L84.10,256.00 L84.80,248.00 L86.20,240.00 L87.80,232.60 L88.80,220.00 L89.60,204.00 L90.20,195.00 L90.70,186.40 L91.50,193.00 L92.90,204.00 L93.50,220.00 L94.20,233.00 L95.80,248.00 L97.00,254.00 L98.40,258.50 L99.00,259.20 L99.00,260.05 L100.00,261.13 L101.00,262.09 L101.75,262.63 L102.50,262.48 L103.25,263.09 L104.00,261.56 L104.75,262.62 L105.50,263.76 L106.25,263.36 L107.00,264.05 L107.75,262.66 L108.50,263.56 L109.25,263.31 L110.00,264.09 L110.72,264.28 L111.43,263.29 L112.15,263.83 L112.87,264.09 L113.58,265.50 L114.30,264.80 L114.30,265.00 L116.00,264.60 L118.00,264.00 L120.00,263.20 L121.80,262.40 L123.00,263.60 L124.50,265.50 L126.00,267.50 L127.50,269.60 L129.00,271.50 L130.00,272.30" stroke="#222" stroke-width="0.35" fill="none" opacity="0.6"/>
<line x1="75.20" y1="233.10" x2="98.80" y2="233.10" stroke="#555" stroke-width="0.75" />
<line x1="75.20" y1="231.70" x2="75.20" y2="234.50" stroke="#555" stroke-width="0.6" />
<line x1="98.80" y1="231.70" x2="98.80" y2="234.50" stroke="#555" stroke-width="0.6" />
<line x1="99.00" y1="239.80" x2="114.30" y2="239.80" stroke="#555" stroke-width="0.75" />
<line x1="99.00" y1="238.40" x2="99.00" y2="241.20" stroke="#555" stroke-width="0.6" />
<line x1="114.30" y1="238.40" x2="114.30" y2="241.20" stroke="#555" stroke-width="0.6" />
<line x1="114.30" y1="242.80" x2="129.60" y2="242.80" stroke="#555" stroke-width="0.75" />
<line x1="114.30" y1="241.40" x2="114.30" y2="244.20" stroke="#555" stroke-width="0.6" />
<line x1="129.60" y1="241.40" x2="129.60" y2="244.20" stroke="#555" stroke-width="0.6" />
<text x="65.00" y="240.90" font-size="6.5" font-family="'DejaVu Sans', Verdana, sans-serif" fill="#222" textLength="18.0" lengthAdjust="spacingAndGlyphs" >74.6%</text>
<text x="96.80" y="246.50" font-size="6.5" font-family="'DejaVu Sans', Verdana, sans-serif" fill="#222" textLength="18.0" lengthAdjust="spacingAndGlyphs" >15.1%</text>
<text x="120.60" y="249.40" font-size="6.5" font-family="'DejaVu Sans', Verdana, sans-serif" fill="#222" textLength="17.6" lengthAdjust="spacingAndGlyphs" >10.3%</text>
<text x="125.80" y="195.90" font-size="10.4" font-family="'Liberation Sans', Arial, sans-serif" fill="#111" font-weight="bold" textLength="15.7" lengthAdjust="spacingAndGlyphs" >IgG</text>
<text x="61.00" y="290.40" font-size="7.0" font-family="'Liberation Sans', Arial, sans-serif" fill="#111" textLength="26.3" lengthAdjust="spacingAndGlyphs" stroke="#111" stroke-width="0.12">Hoechst</text>
<text x="61.00" y="299.00" font-size="7.0" font-family="'Liberation Sans', Arial, sans-serif" fill="#111" textLength="20.3" lengthAdjust="spacingAndGlyphs" stroke="#111" stroke-width="0.12">33342</text>
<line x1="91.00" y1="291.00" x2="107.00" y2="291.00" stroke="#000" stroke-width="1.8" />
<path d="M104.50,287.70 L113.50,291.00 L104.50,294.30 Z" fill="#000"/>
<text x="135.60" y="291.40" font-size="7.2" font-family="'Liberation Serif', 'Times New Roman', serif" fill="#1a1a1a" textLength="18.5" lengthAdjust="spacingAndGlyphs" >(×10³)</text>
<line x1="45.60" y1="250.00" x2="45.60" y2="233.80" stroke="#000" stroke-width="1.6" />
<path d="M42.30,235.30 L45.60,227.80 L48.90,235.30 Z" fill="#000"/>
<text x="48.50" y="263.70" font-size="7.8" font-family="'Liberation Sans', Arial, sans-serif" fill="#222" text-anchor="middle" textLength="18.5" lengthAdjust="spacingAndGlyphs" transform="rotate(-90 48.50 263.70)" >Count</text>
<text x="38.60" y="231.00" font-size="12.4" font-family="'Liberation Sans', Arial, sans-serif" fill="#111" font-weight="bold" text-anchor="middle" textLength="39.8" lengthAdjust="spacingAndGlyphs" transform="rotate(-90 38.60 231.00)" stroke="#111" stroke-width="0.3">CHLA15</text>
<path d="M167.40,272.20 L167.40,182.40 L261.70,182.40 L261.70,272.20" stroke="#8a8a8a" stroke-width="0.9" fill="none"/>
<line x1="167.40" y1="272.20" x2="261.70" y2="272.20" stroke="#444" stroke-width="0.8" />
<line x1="165.90" y1="182.80" x2="167.40" y2="182.80" stroke="#555" stroke-width="0.6" />
<text x="165.80" y="185.20" font-size="7.0" font-family="'Liberation Sans', Arial, sans-serif" fill="#222" text-anchor="end" textLength="8.25" lengthAdjust="spacingAndGlyphs" >100</text>
<line x1="165.90" y1="200.68" x2="167.40" y2="200.68" stroke="#555" stroke-width="0.6" />
<text x="165.80" y="203.08" font-size="7.0" font-family="'Liberation Sans', Arial, sans-serif" fill="#222" text-anchor="end" textLength="5.5" lengthAdjust="spacingAndGlyphs" >80</text>
<line x1="165.90" y1="218.56" x2="167.40" y2="218.56" stroke="#555" stroke-width="0.6" />
<text x="165.80" y="220.96" font-size="7.0" font-family="'Liberation Sans', Arial, sans-serif" fill="#222" text-anchor="end" textLength="5.5" lengthAdjust="spacingAndGlyphs" >60</text>
<line x1="165.90" y1="236.44" x2="167.40" y2="236.44" stroke="#555" stroke-width="0.6" />
<text x="165.80" y="238.84" font-size="7.0" font-family="'Liberation Sans', Arial, sans-serif" fill="#222" text-anchor="end" textLength="5.5" lengthAdjust="spacingAndGlyphs" >40</text>
<line x1="165.90" y1="254.32" x2="167.40" y2="254.32" stroke="#555" stroke-width="0.6" />
<text x="165.80" y="256.72" font-size="7.0" font-family="'Liberation Sans', Arial, sans-serif" fill="#222" text-anchor="end" textLength="5.5" lengthAdjust="spacingAndGlyphs" >20</text>
<line x1="165.90" y1="272.20" x2="167.40" y2="272.20" stroke="#555" stroke-width="0.6" />
<text x="165.80" y="274.60" font-size="7.0" font-family="'Liberation Sans', Arial, sans-serif" fill="#222" text-anchor="end" textLength="2.75" lengthAdjust="spacingAndGlyphs" >0</text>
<line x1="183.70" y1="272.20" x2="183.70" y2="273.40" stroke="#555" stroke-width="0.6" />
<text x="183.70" y="283.30" font-size="8.4" font-family="'Liberation Sans', Arial, sans-serif" fill="#1a1a1a" text-anchor="middle" textLength="8.0" lengthAdjust="spacingAndGlyphs" >100</text>
<line x1="199.30" y1="272.20" x2="199.30" y2="273.40" stroke="#555" stroke-width="0.6" />
<text x="199.30" y="283.30" font-size="8.4" font-family="'Liberation Sans', Arial, sans-serif" fill="#1a1a1a" text-anchor="middle" textLength="8.0" lengthAdjust="spacingAndGlyphs" >200</text>
<line x1="214.90" y1="272.20" x2="214.90" y2="273.40" stroke="#555" stroke-width="0.6" />
<text x="214.90" y="283.30" font-size="8.4" font-family="'Liberation Sans', Arial, sans-serif" fill="#1a1a1a" text-anchor="middle" textLength="8.0" lengthAdjust="spacingAndGlyphs" >300</text>
<line x1="230.50" y1="272.20" x2="230.50" y2="273.40" stroke="#555" stroke-width="0.6" />
<text x="230.50" y="283.30" font-size="8.4" font-family="'Liberation Sans', Arial, sans-serif" fill="#1a1a1a" text-anchor="middle" textLength="8.0" lengthAdjust="spacingAndGlyphs" >400</text>
<line x1="246.10" y1="272.20" x2="246.10" y2="273.40" stroke="#555" stroke-width="0.6" />
<text x="246.10" y="283.30" font-size="8.4" font-family="'Liberation Sans', Arial, sans-serif" fill="#1a1a1a" text-anchor="middle" textLength="8.0" lengthAdjust="spacingAndGlyphs" >500</text>
<line x1="261.70" y1="272.20" x2="261.70" y2="273.40" stroke="#555" stroke-width="0.6" />
<text x="261.70" y="283.30" font-size="8.4" font-family="'Liberation Sans', Arial, sans-serif" fill="#1a1a1a" text-anchor="middle" textLength="8.0" lengthAdjust="spacingAndGlyphs" >600</text>
<clipPath id="hc4"><path d="M183.50,272.20 L183.50,272.00 L184.00,264.00 L185.00,257.50 L185.60,256.50 L187.70,255.40 L189.50,253.50 L191.40,251.00 L192.50,248.00 L193.60,244.60 L194.70,239.00 L195.70,233.40 L196.50,220.00 L197.30,202.00 L198.10,185.20 L198.90,196.00 L199.80,215.00 L200.70,233.40 L201.50,240.00 L202.20,244.60 L203.50,251.00 L205.00,254.40 L206.70,256.00 L206.90,256.91 L207.63,256.84 L208.36,256.42 L209.09,258.31 L209.81,256.39 L210.54,257.72 L211.27,258.81 L212.00,256.99 L212.75,258.26 L213.50,258.53 L214.25,257.27 L215.00,258.21 L215.75,259.11 L216.50,258.63 L217.25,259.42 L218.00,258.18 L218.70,258.46 L219.40,258.24 L220.10,259.27 L220.80,260.36 L221.50,259.65 L222.20,260.17 L222.90,259.60 L222.90,258.80 L225.00,257.80 L227.70,256.30 L228.80,259.50 L229.80,263.00 L232.00,267.30 L235.20,270.30 L238.00,271.60 L240.50,272.00 L240.50,272.20 Z"/></clipPath>
<g clip-path="url(#hc4)"><rect x="182.50" y="182.40" width="24.30" height="89.80" fill="#4649f6"/><rect x="206.80" y="182.40" width="16.10" height="89.80" fill="#f84f4f"/><rect x="222.90" y="182.40" width="11.10" height="89.80" fill="#14cc52"/><rect x="234.00" y="182.40" width="8.50" height="89.80" fill="#9ad8a4"/></g>
<path d="M183.50,272.00 L184.00,264.00 L185.00,257.50 L185.60,256.50 L187.70,255.40 L189.50,253.50 L191.40,251.00 L192.50,248.00 L193.60,244.60 L194.70,239.00 L195.70,233.40 L196.50,220.00 L197.30,202.00 L198.10,185.20 L198.90,196.00 L199.80,215.00 L200.70,233.40 L201.50,240.00 L202.20,244.60 L203.50,251.00 L205.00,254.40 L206.70,256.00 L206.90,256.91 L207.63,256.84 L208.36,256.42 L209.09,258.31 L209.81,256.39 L210.54,257.72 L211.27,258.81 L212.00,256.99 L212.75,258.26 L213.50,258.53 L214.25,257.27 L215.00,258.21 L215.75,259.11 L216.50,258.63 L217.25,259.42 L218.00,258.18 L218.70,258.46 L219.40,258.24 L220.10,259.27 L220.80,260.36 L221.50,259.65 L222.20,260.17 L222.90,259.60 L222.90,258.80 L225.00,257.80 L227.70,256.30 L228.80,259.50 L229.80,263.00 L232.00,267.30 L235.20,270.30 L238.00,271.60 L240.50,272.00" stroke="#222" stroke-width="0.35" fill="none" opacity="0.6"/>
<line x1="183.40" y1="233.50" x2="207.50" y2="233.50" stroke="#555" stroke-width="0.75" />
<line x1="183.40" y1="232.10" x2="183.40" y2="234.90" stroke="#555" stroke-width="0.6" />
<line x1="207.50" y1="232.10" x2="207.50" y2="234.90" stroke="#555" stroke-width="0.6" />
<line x1="207.50" y1="239.20" x2="223.00" y2="239.20" stroke="#555" stroke-width="0.75" />
<line x1="207.50" y1="237.80" x2="207.50" y2="240.60" stroke="#555" stroke-width="0.6" />
<line x1="223.00" y1="237.80" x2="223.00" y2="240.60" stroke="#555" stroke-width="0.6" />
<line x1="223.00" y1="242.80" x2="239.40" y2="242.80" stroke="#555" stroke-width="0.75" />
<line x1="223.00" y1="241.40" x2="223.00" y2="244.20" stroke="#555" stroke-width="0.6" />
<line x1="239.40" y1="241.40" x2="239.40" y2="244.20" stroke="#555" stroke-width="0.6" />
<text x="170.60" y="239.90" font-size="6.5" font-family="'DejaVu Sans', Verdana, sans-serif" fill="#222" textLength="18.0" lengthAdjust="spacingAndGlyphs" >70.1%</text>
<text x="203.40" y="246.00" font-size="6.5" font-family="'DejaVu Sans', Verdana, sans-serif" fill="#222" textLength="18.0" lengthAdjust="spacingAndGlyphs" >19.8%</text>
<text x="226.30" y="249.60" font-size="6.5" font-family="'DejaVu Sans', Verdana, sans-serif" fill="#222" textLength="17.2" lengthAdjust="spacingAndGlyphs" >10.1%</text>
<text x="227.80" y="198.20" font-size="10.6" font-family="'Liberation Sans', Arial, sans-serif" fill="#111" font-weight="bold" textLength="25.4" lengthAdjust="spacingAndGlyphs" >hu14</text>
<text x="168.40" y="290.40" font-size="7.0" font-family="'Liberation Sans', Arial, sans-serif" fill="#111" textLength="26.3" lengthAdjust="spacingAndGlyphs" stroke="#111" stroke-width="0.12">Hoechst</text>
<text x="168.40" y="299.00" font-size="7.0" font-family="'Liberation Sans', Arial, sans-serif" fill="#111" textLength="20.3" lengthAdjust="spacingAndGlyphs" stroke="#111" stroke-width="0.12">33342</text>
<line x1="199.00" y1="291.00" x2="216.00" y2="291.00" stroke="#000" stroke-width="1.8" />
<path d="M213.50,287.70 L222.50,291.00 L213.50,294.30 Z" fill="#000"/>
<text x="243.00" y="290.00" font-size="7.2" font-family="'Liberation Serif', 'Times New Roman', serif" fill="#1a1a1a" textLength="18.5" lengthAdjust="spacingAndGlyphs" >(×10³)</text>
<line x1="156.10" y1="249.00" x2="156.10" y2="232.90" stroke="#000" stroke-width="1.6" />
<path d="M152.80,234.40 L156.10,226.90 L159.40,234.40 Z" fill="#000"/>
<text x="159.00" y="262.50" font-size="7.8" font-family="'Liberation Sans', Arial, sans-serif" fill="#222" text-anchor="middle" textLength="19.4" lengthAdjust="spacingAndGlyphs" transform="rotate(-90 159.00 262.50)" >Count</text>
<path d="M58.80,394.00 L58.80,304.30 L150.40,304.30 L150.40,394.00" stroke="#8a8a8a" stroke-width="0.9" fill="none"/>
<line x1="58.80" y1="394.00" x2="150.40" y2="394.00" stroke="#444" stroke-width="0.8" />
<line x1="57.30" y1="322.40" x2="58.80" y2="322.40" stroke="#555" stroke-width="0.6" />
<text x="57.20" y="324.80" font-size="7.0" font-family="'Liberation Sans', Arial, sans-serif" fill="#222" text-anchor="end" textLength="8.25" lengthAdjust="spacingAndGlyphs" >200</text>
<line x1="57.30" y1="340.30" x2="58.80" y2="340.30" stroke="#555" stroke-width="0.6" />
<text x="57.20" y="342.70" font-size="7.0" font-family="'Liberation Sans', Arial, sans-serif" fill="#222" text-anchor="end" textLength="8.25" lengthAdjust="spacingAndGlyphs" >150</text>
<line x1="57.30" y1="358.20" x2="58.80" y2="358.20" stroke="#555" stroke-width="0.6" />
<text x="57.20" y="360.60" font-size="7.0" font-family="'Liberation Sans', Arial, sans-serif" fill="#222" text-anchor="end" textLength="8.25" lengthAdjust="spacingAndGlyphs" >100</text>
<line x1="57.30" y1="376.10" x2="58.80" y2="376.10" stroke="#555" stroke-width="0.6" />
<text x="57.20" y="378.50" font-size="7.0" font-family="'Liberation Sans', Arial, sans-serif" fill="#222" text-anchor="end" textLength="5.5" lengthAdjust="spacingAndGlyphs" >50</text>
<line x1="57.30" y1="394.00" x2="58.80" y2="394.00" stroke="#555" stroke-width="0.6" />
<text x="57.20" y="396.40" font-size="7.0" font-family="'Liberation Sans', Arial, sans-serif" fill="#222" text-anchor="end" textLength="2.75" lengthAdjust="spacingAndGlyphs" >0</text>
<line x1="74.80" y1="394.00" x2="74.80" y2="395.20" stroke="#555" stroke-width="0.6" />
<text x="74.80" y="404.80" font-size="8.4" font-family="'Liberation Sans', Arial, sans-serif" fill="#1a1a1a" text-anchor="middle" textLength="8.0" lengthAdjust="spacingAndGlyphs" >100</text>
<line x1="89.92" y1="394.00" x2="89.92" y2="395.20" stroke="#555" stroke-width="0.6" />
<text x="89.92" y="404.80" font-size="8.4" font-family="'Liberation Sans', Arial, sans-serif" fill="#1a1a1a" text-anchor="middle" textLength="8.0" lengthAdjust="spacingAndGlyphs" >200</text>
<line x1="105.04" y1="394.00" x2="105.04" y2="395.20" stroke="#555" stroke-width="0.6" />
<text x="105.04" y="404.80" font-size="8.4" font-family="'Liberation Sans', Arial, sans-serif" fill="#1a1a1a" text-anchor="middle" textLength="8.0" lengthAdjust="spacingAndGlyphs" >300</text>
<line x1="120.16" y1="394.00" x2="120.16" y2="395.20" stroke="#555" stroke-width="0.6" />
<text x="120.16" y="404.80" font-size="8.4" font-family="'Liberation Sans', Arial, sans-serif" fill="#1a1a1a" text-anchor="middle" textLength="8.0" lengthAdjust="spacingAndGlyphs" >400</text>
<line x1="135.28" y1="394.00" x2="135.28" y2="395.20" stroke="#555" stroke-width="0.6" />
<text x="135.28" y="404.80" font-size="8.4" font-family="'Liberation Sans', Arial, sans-serif" fill="#1a1a1a" text-anchor="middle" textLength="8.0" lengthAdjust="spacingAndGlyphs" >500</text>
<line x1="150.40" y1="394.00" x2="150.40" y2="395.20" stroke="#555" stroke-width="0.6" />
<text x="150.40" y="404.80" font-size="8.4" font-family="'Liberation Sans', Arial, sans-serif" fill="#1a1a1a" text-anchor="middle" textLength="8.0" lengthAdjust="spacingAndGlyphs" >600</text>
<clipPath id="hc5"><path d="M72.20,394.00 L72.20,394.00 L74.00,393.00 L76.50,392.00 L79.20,390.00 L81.50,388.50 L83.60,383.60 L85.20,379.00 L86.50,372.60 L87.20,362.00 L87.60,355.00 L88.30,338.00 L88.90,320.00 L89.40,308.50 L89.90,318.00 L90.60,338.00 L91.40,355.00 L92.00,365.00 L92.70,372.60 L93.60,379.00 L94.70,383.60 L96.00,385.50 L97.70,386.00 L97.80,386.11 L98.54,386.94 L99.29,387.08 L100.03,387.49 L100.77,386.57 L101.51,386.78 L102.26,386.79 L103.00,387.06 L103.71,388.02 L104.43,387.19 L105.14,387.98 L105.86,387.61 L106.57,387.89 L107.29,388.25 L108.00,389.04 L108.77,388.74 L109.54,387.87 L110.31,388.36 L111.09,388.22 L111.86,389.45 L112.63,389.42 L113.40,389.00 L113.40,389.00 L115.00,388.20 L117.30,387.00 L119.00,387.80 L120.50,389.50 L122.10,391.30 L124.00,392.80 L126.00,393.60 L129.00,394.00 L129.00,394.00 Z"/></clipPath>
<g clip-path="url(#hc5)"><rect x="71.20" y="304.30" width="26.50" height="89.70" fill="#4649f6"/><rect x="97.70" y="304.30" width="15.70" height="89.70" fill="#f84f4f"/><rect x="113.40" y="304.30" width="11.60" height="89.70" fill="#14cc52"/><rect x="125.00" y="304.30" width="6.00" height="89.70" fill="#9ad8a4"/></g>
<path d="M72.20,394.00 L74.00,393.00 L76.50,392.00 L79.20,390.00 L81.50,388.50 L83.60,383.60 L85.20,379.00 L86.50,372.60 L87.20,362.00 L87.60,355.00 L88.30,338.00 L88.90,320.00 L89.40,308.50 L89.90,318.00 L90.60,338.00 L91.40,355.00 L92.00,365.00 L92.70,372.60 L93.60,379.00 L94.70,383.60 L96.00,385.50 L97.70,386.00 L97.80,386.11 L98.54,386.94 L99.29,387.08 L100.03,387.49 L100.77,386.57 L101.51,386.78 L102.26,386.79 L103.00,387.06 L103.71,388.02 L104.43,387.19 L105.14,387.98 L105.86,387.61 L106.57,387.89 L107.29,388.25 L108.00,389.04 L108.77,388.74 L109.54,387.87 L110.31,388.36 L111.09,388.22 L111.86,389.45 L112.63,389.42 L113.40,389.00 L113.40,389.00 L115.00,388.20 L117.30,387.00 L119.00,387.80 L120.50,389.50 L122.10,391.30 L124.00,392.80 L126.00,393.60 L129.00,394.00" stroke="#222" stroke-width="0.35" fill="none" opacity="0.6"/>
<line x1="69.10" y1="355.30" x2="97.50" y2="355.30" stroke="#555" stroke-width="0.75" />
<line x1="69.10" y1="353.90" x2="69.10" y2="356.70" stroke="#555" stroke-width="0.6" />
<line x1="97.50" y1="353.90" x2="97.50" y2="356.70" stroke="#555" stroke-width="0.6" />
<line x1="97.50" y1="361.00" x2="113.90" y2="361.00" stroke="#555" stroke-width="0.75" />
<line x1="97.50" y1="359.60" x2="97.50" y2="362.40" stroke="#555" stroke-width="0.6" />
<line x1="113.90" y1="359.60" x2="113.90" y2="362.40" stroke="#555" stroke-width="0.6" />
<line x1="113.90" y1="365.00" x2="128.80" y2="365.00" stroke="#555" stroke-width="0.75" />
<line x1="113.90" y1="363.60" x2="113.90" y2="366.40" stroke="#555" stroke-width="0.6" />
<line x1="128.80" y1="363.60" x2="128.80" y2="366.40" stroke="#555" stroke-width="0.6" />
<text x="65.00" y="363.40" font-size="6.5" font-family="'DejaVu Sans', Verdana, sans-serif" fill="#222" textLength="18.0" lengthAdjust="spacingAndGlyphs" >75.4%</text>
<text x="92.80" y="368.30" font-size="6.5" font-family="'DejaVu Sans', Verdana, sans-serif" fill="#222" textLength="18.3" lengthAdjust="spacingAndGlyphs" >15.9%</text>
<text x="115.70" y="372.70" font-size="6.5" font-family="'DejaVu Sans', Verdana, sans-serif" fill="#222" textLength="15.0" lengthAdjust="spacingAndGlyphs" >8.7%</text>
<text x="127.90" y="316.50" font-size="10.4" font-family="'Liberation Sans', Arial, sans-serif" fill="#111" font-weight="bold" textLength="15.2" lengthAdjust="spacingAndGlyphs" >IgG</text>
<text x="57.60" y="415.40" font-size="7.0" font-family="'Liberation Sans', Arial, sans-serif" fill="#111" textLength="26.3" lengthAdjust="spacingAndGlyphs" stroke="#111" stroke-width="0.12">Hoechst</text>
<text x="57.60" y="424.00" font-size="7.0" font-family="'Liberation Sans', Arial, sans-serif" fill="#111" textLength="20.3" lengthAdjust="spacingAndGlyphs" stroke="#111" stroke-width="0.12">33342</text>
<line x1="88.00" y1="416.40" x2="105.00" y2="416.40" stroke="#000" stroke-width="1.8" />
<path d="M102.50,413.10 L111.50,416.40 L102.50,419.70 Z" fill="#000"/>
<text x="133.80" y="411.00" font-size="7.2" font-family="'Liberation Serif', 'Times New Roman', serif" fill="#1a1a1a" textLength="18.5" lengthAdjust="spacingAndGlyphs" >(×10³)</text>
<line x1="45.60" y1="370.00" x2="45.60" y2="353.80" stroke="#000" stroke-width="1.6" />
<path d="M42.30,355.30 L45.60,347.80 L48.90,355.30 Z" fill="#000"/>
<text x="48.50" y="384.30" font-size="7.8" font-family="'Liberation Sans', Arial, sans-serif" fill="#222" text-anchor="middle" textLength="19.4" lengthAdjust="spacingAndGlyphs" transform="rotate(-90 48.50 384.30)" >Count</text>
<text x="40.40" y="349.60" font-size="12.0" font-family="'Liberation Sans', Arial, sans-serif" fill="#111" font-weight="bold" text-anchor="middle" textLength="48.1" lengthAdjust="spacingAndGlyphs" transform="rotate(-90 40.40 349.60)" stroke="#111" stroke-width="0.3">SK-N-BE1</text>
<path d="M169.10,393.20 L169.10,305.50 L261.00,305.50 L261.00,393.20" stroke="#8a8a8a" stroke-width="0.9" fill="none"/>
<line x1="169.10" y1="393.20" x2="261.00" y2="393.20" stroke="#444" stroke-width="0.8" />
<line x1="167.60" y1="306.10" x2="169.10" y2="306.10" stroke="#555" stroke-width="0.6" />
<text x="167.50" y="308.50" font-size="7.0" font-family="'Liberation Sans', Arial, sans-serif" fill="#222" text-anchor="end" textLength="8.25" lengthAdjust="spacingAndGlyphs" >100</text>
<line x1="167.60" y1="323.52" x2="169.10" y2="323.52" stroke="#555" stroke-width="0.6" />
<text x="167.50" y="325.92" font-size="7.0" font-family="'Liberation Sans', Arial, sans-serif" fill="#222" text-anchor="end" textLength="5.5" lengthAdjust="spacingAndGlyphs" >80</text>
<line x1="167.60" y1="340.94" x2="169.10" y2="340.94" stroke="#555" stroke-width="0.6" />
<text x="167.50" y="343.34" font-size="7.0" font-family="'Liberation Sans', Arial, sans-serif" fill="#222" text-anchor="end" textLength="5.5" lengthAdjust="spacingAndGlyphs" >60</text>
<line x1="167.60" y1="358.36" x2="169.10" y2="358.36" stroke="#555" stroke-width="0.6" />
<text x="167.50" y="360.76" font-size="7.0" font-family="'Liberation Sans', Arial, sans-serif" fill="#222" text-anchor="end" textLength="5.5" lengthAdjust="spacingAndGlyphs" >40</text>
<line x1="167.60" y1="375.78" x2="169.10" y2="375.78" stroke="#555" stroke-width="0.6" />
<text x="167.50" y="378.18" font-size="7.0" font-family="'Liberation Sans', Arial, sans-serif" fill="#222" text-anchor="end" textLength="5.5" lengthAdjust="spacingAndGlyphs" >20</text>
<line x1="167.60" y1="393.20" x2="169.10" y2="393.20" stroke="#555" stroke-width="0.6" />
<text x="167.50" y="395.60" font-size="7.0" font-family="'Liberation Sans', Arial, sans-serif" fill="#222" text-anchor="end" textLength="2.75" lengthAdjust="spacingAndGlyphs" >0</text>
<line x1="184.90" y1="393.20" x2="184.90" y2="394.40" stroke="#555" stroke-width="0.6" />
<text x="184.90" y="404.50" font-size="8.4" font-family="'Liberation Sans', Arial, sans-serif" fill="#1a1a1a" text-anchor="middle" textLength="8.0" lengthAdjust="spacingAndGlyphs" >100</text>
<line x1="200.10" y1="393.20" x2="200.10" y2="394.40" stroke="#555" stroke-width="0.6" />
<text x="200.10" y="404.50" font-size="8.4" font-family="'Liberation Sans', Arial, sans-serif" fill="#1a1a1a" text-anchor="middle" textLength="8.0" lengthAdjust="spacingAndGlyphs" >200</text>
<line x1="215.30" y1="393.20" x2="215.30" y2="394.40" stroke="#555" stroke-width="0.6" />
<text x="215.30" y="404.50" font-size="8.4" font-family="'Liberation Sans', Arial, sans-serif" fill="#1a1a1a" text-anchor="middle" textLength="8.0" lengthAdjust="spacingAndGlyphs" >300</text>
<line x1="230.50" y1="393.20" x2="230.50" y2="394.40" stroke="#555" stroke-width="0.6" />
<text x="230.50" y="404.50" font-size="8.4" font-family="'Liberation Sans', Arial, sans-serif" fill="#1a1a1a" text-anchor="middle" textLength="8.0" lengthAdjust="spacingAndGlyphs" >400</text>
<line x1="245.70" y1="393.20" x2="245.70" y2="394.40" stroke="#555" stroke-width="0.6" />
<text x="245.70" y="404.50" font-size="8.4" font-family="'Liberation Sans', Arial, sans-serif" fill="#1a1a1a" text-anchor="middle" textLength="8.0" lengthAdjust="spacingAndGlyphs" >500</text>
<line x1="260.90" y1="393.20" x2="260.90" y2="394.40" stroke="#555" stroke-width="0.6" />
<text x="260.90" y="404.50" font-size="8.4" font-family="'Liberation Sans', Arial, sans-serif" fill="#1a1a1a" text-anchor="middle" textLength="8.0" lengthAdjust="spacingAndGlyphs" >600</text>
<clipPath id="hc6"><path d="M183.50,393.20 L183.50,393.20 L184.00,381.00 L184.40,372.00 L186.60,370.40 L189.20,366.00 L191.00,360.50 L192.80,355.00 L194.00,349.50 L195.00,344.00 L196.50,333.00 L198.30,322.00 L199.30,314.00 L200.30,307.70 L201.00,313.00 L202.00,322.00 L203.40,333.00 L204.70,344.00 L206.00,355.00 L206.40,366.00 L207.00,372.00 L208.30,377.50 L208.40,379.84 L209.17,380.61 L209.93,381.12 L210.70,379.98 L211.47,381.13 L212.23,381.21 L213.00,381.32 L213.71,380.43 L214.43,380.48 L215.14,381.41 L215.86,382.35 L216.57,381.58 L217.29,382.29 L218.00,382.13 L218.79,383.34 L219.57,383.68 L220.36,382.73 L221.14,384.07 L221.93,382.34 L222.71,383.98 L223.50,383.50 L223.50,383.20 L227.00,384.00 L230.50,384.80 L232.30,386.00 L233.80,387.00 L235.50,388.80 L237.10,390.20 L239.00,392.40 L241.00,393.20 L241.00,393.20 Z"/></clipPath>
<g clip-path="url(#hc6)"><rect x="182.50" y="305.50" width="25.80" height="87.70" fill="#4649f6"/><rect x="208.30" y="305.50" width="15.20" height="87.70" fill="#f84f4f"/><rect x="223.50" y="305.50" width="12.50" height="87.70" fill="#14cc52"/><rect x="236.00" y="305.50" width="7.00" height="87.70" fill="#9ad8a4"/></g>
<path d="M183.50,393.20 L184.00,381.00 L184.40,372.00 L186.60,370.40 L189.20,366.00 L191.00,360.50 L192.80,355.00 L194.00,349.50 L195.00,344.00 L196.50,333.00 L198.30,322.00 L199.30,314.00 L200.30,307.70 L201.00,313.00 L202.00,322.00 L203.40,333.00 L204.70,344.00 L206.00,355.00 L206.40,366.00 L207.00,372.00 L208.30,377.50 L208.40,379.84 L209.17,380.61 L209.93,381.12 L210.70,379.98 L211.47,381.13 L212.23,381.21 L213.00,381.32 L213.71,380.43 L214.43,380.48 L215.14,381.41 L215.86,382.35 L216.57,381.58 L217.29,382.29 L218.00,382.13 L218.79,383.34 L219.57,383.68 L220.36,382.73 L221.14,384.07 L221.93,382.34 L222.71,383.98 L223.50,383.50 L223.50,383.20 L227.00,384.00 L230.50,384.80 L232.30,386.00 L233.80,387.00 L235.50,388.80 L237.10,390.20 L239.00,392.40 L241.00,393.20" stroke="#222" stroke-width="0.35" fill="none" opacity="0.6"/>
<line x1="180.00" y1="355.90" x2="208.10" y2="355.90" stroke="#555" stroke-width="0.75" />
<line x1="180.00" y1="354.50" x2="180.00" y2="357.30" stroke="#555" stroke-width="0.6" />
<line x1="208.10" y1="354.50" x2="208.10" y2="357.30" stroke="#555" stroke-width="0.6" />
<line x1="208.30" y1="361.20" x2="224.30" y2="361.20" stroke="#555" stroke-width="0.75" />
<line x1="208.30" y1="359.80" x2="208.30" y2="362.60" stroke="#555" stroke-width="0.6" />
<line x1="224.30" y1="359.80" x2="224.30" y2="362.60" stroke="#555" stroke-width="0.6" />
<line x1="224.30" y1="365.40" x2="239.40" y2="365.40" stroke="#555" stroke-width="0.75" />
<line x1="224.30" y1="364.00" x2="224.30" y2="366.80" stroke="#555" stroke-width="0.6" />
<line x1="239.40" y1="364.00" x2="239.40" y2="366.80" stroke="#555" stroke-width="0.6" />
<text x="170.50" y="363.70" font-size="6.5" font-family="'DejaVu Sans', Verdana, sans-serif" fill="#222" textLength="18.0" lengthAdjust="spacingAndGlyphs" >77.9%</text>
<text x="204.20" y="368.60" font-size="6.5" font-family="'DejaVu Sans', Verdana, sans-serif" fill="#222" textLength="18.8" lengthAdjust="spacingAndGlyphs" >14.4%</text>
<text x="228.00" y="375.60" font-size="6.5" font-family="'DejaVu Sans', Verdana, sans-serif" fill="#222" textLength="14.7" lengthAdjust="spacingAndGlyphs" >7.6%</text>
<text x="228.40" y="317.00" font-size="10.6" font-family="'Liberation Sans', Arial, sans-serif" fill="#111" font-weight="bold" textLength="26.1" lengthAdjust="spacingAndGlyphs" >hu14</text>
<text x="166.90" y="415.40" font-size="7.0" font-family="'Liberation Sans', Arial, sans-serif" fill="#111" textLength="26.3" lengthAdjust="spacingAndGlyphs" stroke="#111" stroke-width="0.12">Hoechst</text>
<text x="166.90" y="424.00" font-size="7.0" font-family="'Liberation Sans', Arial, sans-serif" fill="#111" textLength="20.3" lengthAdjust="spacingAndGlyphs" stroke="#111" stroke-width="0.12">33342</text>
<line x1="197.40" y1="415.60" x2="214.30" y2="415.60" stroke="#000" stroke-width="1.8" />
<path d="M211.80,412.30 L220.80,415.60 L211.80,418.90 Z" fill="#000"/>
<text x="242.00" y="411.00" font-size="7.2" font-family="'Liberation Serif', 'Times New Roman', serif" fill="#1a1a1a" textLength="18.5" lengthAdjust="spacingAndGlyphs" >(×10³)</text>
<line x1="158.00" y1="369.60" x2="158.00" y2="353.40" stroke="#000" stroke-width="1.6" />
<path d="M154.70,354.90 L158.00,347.40 L161.30,354.90 Z" fill="#000"/>
<text x="160.60" y="383.40" font-size="7.8" font-family="'Liberation Sans', Arial, sans-serif" fill="#222" text-anchor="middle" textLength="19.4" lengthAdjust="spacingAndGlyphs" transform="rotate(-90 160.60 383.40)" >Count</text>
<text x="366.20" y="186.50" font-size="8.6" font-family="'Liberation Sans', Arial, sans-serif" fill="#111" font-weight="bold" text-anchor="middle" textLength="13.4" lengthAdjust="spacingAndGlyphs" >WT</text>
<text x="392.00" y="186.20" font-size="8.6" font-family="'Liberation Sans', Arial, sans-serif" fill="#111" font-weight="bold" text-anchor="middle" textLength="13.8" lengthAdjust="spacingAndGlyphs" >IgG</text>
<text x="427.30" y="180.10" font-size="8.5" font-family="'Liberation Sans', Arial, sans-serif" fill="#111" font-weight="bold" text-anchor="middle" textLength="20.5" lengthAdjust="spacingAndGlyphs" >hu14</text>
<line x1="404.20" y1="182.40" x2="450.20" y2="182.40" stroke="#111" stroke-width="1.4" />
<text x="412.60" y="191.60" font-size="8.5" font-family="'Liberation Sans', Arial, sans-serif" fill="#222" text-anchor="middle" textLength="10.8" lengthAdjust="spacingAndGlyphs" >10</text>
<text x="439.50" y="191.60" font-size="8.5" font-family="'Liberation Sans', Arial, sans-serif" fill="#222" text-anchor="middle" textLength="9.8" lengthAdjust="spacingAndGlyphs" >20</text>
<rect x="352.8" y="193.3" width="100.9" height="29.19999999999999" fill="#c6c6c6"/>
<g clip-path="none">
<rect x="356.30" y="204.10" width="20.00" height="5.00" rx="2.50" fill="#585858" opacity="0.95" filter="url(#blurb)"/>
<rect x="380.70" y="204.50" width="19.00" height="4.60" rx="2.30" fill="#5c5c5c" opacity="0.92" filter="url(#blurb)"/>
<rect x="404.00" y="203.90" width="20.00" height="5.20" rx="2.60" fill="#484848" opacity="1.0" filter="url(#blurb)"/>
<rect x="429.05" y="203.80" width="20.50" height="5.40" rx="2.70" fill="#454545" opacity="1.0" filter="url(#blurb)"/>
<rect x="356.80" y="213.90" width="19.00" height="3.40" rx="1.70" fill="#8e8e8e" opacity="0.85" filter="url(#blurb)"/>
<rect x="381.20" y="214.30" width="18.00" height="3.00" rx="1.50" fill="#a2a2a2" opacity="0.7" filter="url(#blurb)"/>
<rect x="405.40" y="214.30" width="19.00" height="3.00" rx="1.50" fill="#a0a0a0" opacity="0.7" filter="url(#blurb)"/>
<rect x="430.30" y="214.30" width="18.00" height="3.00" rx="1.50" fill="#acacac" opacity="0.6" filter="url(#blurb)"/>
</g>
<rect x="352.8" y="226.3" width="100.9" height="19.399999999999977" fill="#bdbdbd"/>
<g clip-path="none">
<rect x="355.80" y="234.50" width="21.00" height="6.60" rx="3.00" fill="#5a5a5a" opacity="1.0" filter="url(#blurb)"/>
<rect x="380.20" y="234.70" width="20.00" height="6.20" rx="3.00" fill="#5c5c5c" opacity="1.0" filter="url(#blurb)"/>
<rect x="406.00" y="234.30" width="19.00" height="6.40" rx="3.00" fill="#5e5e5e" opacity="1.0" filter="url(#blurb)"/>
<rect x="431.80" y="234.10" width="20.00" height="6.80" rx="3.00" fill="#555555" opacity="1.0" filter="url(#blurb)"/>
</g>
<rect x="352.8" y="249.0" width="100.9" height="18.80000000000001" fill="#d8d8d8"/>
<g clip-path="none">
<rect x="356.30" y="256.90" width="20.00" height="4.60" rx="2.30" fill="#6e6e6e" opacity="0.95" filter="url(#blurb)"/>
<rect x="381.20" y="257.40" width="18.00" height="4.00" rx="2.00" fill="#868686" opacity="0.9" filter="url(#blurb)"/>
<rect x="405.90" y="257.70" width="18.00" height="3.40" rx="1.70" fill="#acacac" opacity="0.85" filter="url(#blurb)"/>
<rect x="430.30" y="257.10" width="18.00" height="3.60" rx="1.80" fill="#a4a4a4" opacity="0.85" filter="url(#blurb)"/>
</g>
<rect x="352.8" y="272.4" width="100.9" height="15.200000000000045" fill="#d0d0d0"/>
<g clip-path="none">
<rect x="355.30" y="277.50" width="22.00" height="6.60" rx="3.00" fill="#555555" opacity="1.0" filter="url(#blurb)"/>
<rect x="380.20" y="277.90" width="20.00" height="6.20" rx="3.00" fill="#5a5a5a" opacity="1.0" filter="url(#blurb)"/>
<rect x="404.90" y="276.60" width="20.00" height="6.00" rx="3.00" fill="#555555" opacity="1.0" filter="url(#blurb)"/>
<rect x="428.80" y="275.40" width="21.00" height="6.40" rx="3.00" fill="#4c4c4c" opacity="1.0" filter="url(#blurb)"/>
</g>
<text x="349.00" y="212.80" font-size="9.2" font-family="'Liberation Sans', Arial, sans-serif" fill="#111" font-weight="bold" text-anchor="end" textLength="15.4" lengthAdjust="spacingAndGlyphs" >p53</text>
<text x="350.00" y="238.60" font-size="9.2" font-family="'Liberation Sans', Arial, sans-serif" fill="#111" font-weight="bold" text-anchor="end" textLength="28.0" lengthAdjust="spacingAndGlyphs" >β-actin</text>
<text x="349.00" y="262.40" font-size="9.2" font-family="'Liberation Sans', Arial, sans-serif" fill="#111" font-weight="bold" text-anchor="end" textLength="20.4" lengthAdjust="spacingAndGlyphs" >pp53</text>
<text x="350.00" y="283.60" font-size="9.2" font-family="'Liberation Sans', Arial, sans-serif" fill="#111" font-weight="bold" text-anchor="end" textLength="28.0" lengthAdjust="spacingAndGlyphs" >β-actin</text>
<text x="317.20" y="242.00" font-size="12.2" font-family="'Liberation Sans', Arial, sans-serif" fill="#111" font-weight="bold" text-anchor="middle" textLength="40.5" lengthAdjust="spacingAndGlyphs" transform="rotate(-90 317.20 242.00)" stroke="#111" stroke-width="0.3">CHLA15</text>
<text x="366.20" y="307.60" font-size="8.6" font-family="'Liberation Sans', Arial, sans-serif" fill="#111" font-weight="bold" text-anchor="middle" textLength="13.4" lengthAdjust="spacingAndGlyphs" >WT</text>
<text x="392.00" y="307.30" font-size="8.6" font-family="'Liberation Sans', Arial, sans-serif" fill="#111" font-weight="bold" text-anchor="middle" textLength="13.8" lengthAdjust="spacingAndGlyphs" >IgG</text>
<text x="427.30" y="302.50" font-size="8.5" font-family="'Liberation Sans', Arial, sans-serif" fill="#111" font-weight="bold" text-anchor="middle" textLength="20.5" lengthAdjust="spacingAndGlyphs" >hu14</text>
<line x1="404.20" y1="304.70" x2="450.20" y2="304.70" stroke="#111" stroke-width="1.4" />
<text x="412.60" y="313.60" font-size="8.5" font-family="'Liberation Sans', Arial, sans-serif" fill="#222" text-anchor="middle" textLength="10.8" lengthAdjust="spacingAndGlyphs" >10</text>
<text x="439.50" y="313.60" font-size="8.5" font-family="'Liberation Sans', Arial, sans-serif" fill="#222" text-anchor="middle" textLength="9.8" lengthAdjust="spacingAndGlyphs" >20</text>
<rect x="352.8" y="314.6" width="100.9" height="23.0" fill="#b4b4b4"/>
<g clip-path="none">
<rect x="356.30" y="323.40" width="21.00" height="10.00" rx="3.00" fill="#555555" opacity="0.85" filter="url(#blurb)"/>
<rect x="381.00" y="323.80" width="20.00" height="9.60" rx="3.00" fill="#555555" opacity="0.85" filter="url(#blurb)"/>
<rect x="405.50" y="323.50" width="20.00" height="9.40" rx="3.00" fill="#5a5a5a" opacity="0.85" filter="url(#blurb)"/>
<rect x="429.80" y="322.90" width="20.00" height="9.00" rx="3.00" fill="#606060" opacity="0.8" filter="url(#blurb)" transform="rotate(-8 439.80 327.40)"/>
<rect x="356.30" y="322.70" width="21.00" height="4.60" rx="2.30" fill="#1e1e1e" opacity="1.0" filter="url(#blurb)"/>
<rect x="381.00" y="323.00" width="20.00" height="4.40" rx="2.20" fill="#222" opacity="1.0" filter="url(#blurb)"/>
<rect x="405.50" y="322.60" width="20.00" height="4.40" rx="2.20" fill="#222" opacity="1.0" filter="url(#blurb)"/>
<rect x="429.80" y="321.70" width="20.00" height="3.80" rx="1.90" fill="#2e2e2e" opacity="1.0" filter="url(#blurb)" transform="rotate(-8 439.80 323.60)"/>
<rect x="356.80" y="329.60" width="20.00" height="4.00" rx="2.00" fill="#444" opacity="0.85" filter="url(#blurb)"/>
<rect x="381.50" y="329.80" width="19.00" height="4.00" rx="2.00" fill="#444" opacity="0.85" filter="url(#blurb)"/>
<rect x="406.00" y="329.40" width="19.00" height="3.60" rx="1.80" fill="#4c4c4c" opacity="0.8" filter="url(#blurb)"/>
<rect x="430.30" y="329.30" width="19.00" height="3.40" rx="1.70" fill="#555" opacity="0.75" filter="url(#blurb)" transform="rotate(-8 439.80 331.00)"/>
</g>
<rect x="352.8" y="342.0" width="100.9" height="20.899999999999977" fill="#b9b9b9"/>
<g clip-path="none">
<rect x="356.00" y="348.70" width="22.00" height="8.20" rx="3.00" fill="#333333" opacity="1.0" filter="url(#blurb)"/>
<rect x="381.00" y="349.50" width="21.00" height="7.80" rx="3.00" fill="#353535" opacity="1.0" filter="url(#blurb)"/>
<rect x="405.00" y="348.90" width="22.00" height="8.60" rx="3.00" fill="#262626" opacity="1.0" filter="url(#blurb)"/>
<rect x="429.50" y="347.50" width="21.00" height="8.60" rx="3.00" fill="#262626" opacity="1.0" filter="url(#blurb)" transform="rotate(-10 440.00 351.80)"/>
</g>
<rect x="352.8" y="366.8" width="100.9" height="17.0" fill="#e2e2e2"/>
<g clip-path="none">
<rect x="356.80" y="375.10" width="19.00" height="3.40" rx="1.70" fill="#c4c4c4" opacity="0.9" filter="url(#blurb)"/>
<rect x="381.20" y="375.10" width="18.00" height="3.40" rx="1.70" fill="#c4c4c4" opacity="0.9" filter="url(#blurb)"/>
<rect x="405.90" y="375.10" width="18.00" height="3.40" rx="1.70" fill="#c6c6c6" opacity="0.9" filter="url(#blurb)"/>
<rect x="430.30" y="375.30" width="18.00" height="3.00" rx="1.50" fill="#cacaca" opacity="0.9" filter="url(#blurb)"/>
</g>
<rect x="352.8" y="387.8" width="100.9" height="16.19999999999999" fill="#d2d2d2"/>
<g clip-path="none">
<rect x="355.80" y="392.20" width="21.00" height="7.40" rx="3.00" fill="#3c3c3c" opacity="1.0" filter="url(#blurb)"/>
<rect x="380.20" y="392.50" width="20.00" height="7.20" rx="3.00" fill="#3c3c3c" opacity="1.0" filter="url(#blurb)"/>
<rect x="404.40" y="392.30" width="21.00" height="7.20" rx="3.00" fill="#3e3e3e" opacity="1.0" filter="url(#blurb)"/>
<rect x="428.30" y="391.70" width="22.00" height="7.60" rx="3.00" fill="#383838" opacity="1.0" filter="url(#blurb)"/>
</g>
<text x="349.00" y="330.60" font-size="9.2" font-family="'Liberation Sans', Arial, sans-serif" fill="#111" font-weight="bold" text-anchor="end" textLength="14.6" lengthAdjust="spacingAndGlyphs" >p53</text>
<text x="350.00" y="355.20" font-size="9.2" font-family="'Liberation Sans', Arial, sans-serif" fill="#111" font-weight="bold" text-anchor="end" textLength="28.0" lengthAdjust="spacingAndGlyphs" >β-actin</text>
<text x="349.00" y="380.20" font-size="9.2" font-family="'Liberation Sans', Arial, sans-serif" fill="#111" font-weight="bold" text-anchor="end" textLength="20.0" lengthAdjust="spacingAndGlyphs" >pp53</text>
<text x="350.00" y="398.60" font-size="9.2" font-family="'Liberation Sans', Arial, sans-serif" fill="#111" font-weight="bold" text-anchor="end" textLength="28.0" lengthAdjust="spacingAndGlyphs" >β-actin</text>
<text x="317.40" y="359.70" font-size="12.2" font-family="'Liberation Sans', Arial, sans-serif" fill="#111" font-weight="bold" text-anchor="middle" textLength="50" lengthAdjust="spacingAndGlyphs" transform="rotate(-90 317.40 359.70)" stroke="#111" stroke-width="0.3">SK-N-BE1</text>
<text x="520.00" y="185.90" font-size="7.9" font-family="'Liberation Sans', Arial, sans-serif" fill="#111" font-weight="bold" text-anchor="middle" textLength="30.0" lengthAdjust="spacingAndGlyphs" >CHLA15</text>
<line x1="493.50" y1="195.90" x2="493.50" y2="275.70" stroke="#111" stroke-width="1.2" />
<line x1="493.50" y1="275.70" x2="546.70" y2="275.70" stroke="#111" stroke-width="1.2" />
<line x1="491.30" y1="195.90" x2="493.50" y2="195.90" stroke="#111" stroke-width="0.9" />
<text x="490.10" y="197.90" font-size="5.6" font-family="'Liberation Sans', Arial, sans-serif" fill="#222" font-weight="bold" text-anchor="end" textLength="7.8" lengthAdjust="spacingAndGlyphs" >1.2</text>
<line x1="491.30" y1="209.20" x2="493.50" y2="209.20" stroke="#111" stroke-width="0.9" />
<text x="490.10" y="211.20" font-size="5.6" font-family="'Liberation Sans', Arial, sans-serif" fill="#222" font-weight="bold" text-anchor="end" textLength="7.8" lengthAdjust="spacingAndGlyphs" >1.0</text>
<line x1="491.30" y1="222.50" x2="493.50" y2="222.50" stroke="#111" stroke-width="0.9" />
<text x="490.10" y="224.50" font-size="5.6" font-family="'Liberation Sans', Arial, sans-serif" fill="#222" font-weight="bold" text-anchor="end" textLength="7.8" lengthAdjust="spacingAndGlyphs" >0.8</text>
<line x1="491.30" y1="235.80" x2="493.50" y2="235.80" stroke="#111" stroke-width="0.9" />
<text x="490.10" y="237.80" font-size="5.6" font-family="'Liberation Sans', Arial, sans-serif" fill="#222" font-weight="bold" text-anchor="end" textLength="7.8" lengthAdjust="spacingAndGlyphs" >0.6</text>
<line x1="491.30" y1="249.10" x2="493.50" y2="249.10" stroke="#111" stroke-width="0.9" />
<text x="490.10" y="251.10" font-size="5.6" font-family="'Liberation Sans', Arial, sans-serif" fill="#222" font-weight="bold" text-anchor="end" textLength="7.8" lengthAdjust="spacingAndGlyphs" >0.4</text>
<line x1="491.30" y1="262.40" x2="493.50" y2="262.40" stroke="#111" stroke-width="0.9" />
<text x="490.10" y="264.40" font-size="5.6" font-family="'Liberation Sans', Arial, sans-serif" fill="#222" font-weight="bold" text-anchor="end" textLength="7.8" lengthAdjust="spacingAndGlyphs" >0.2</text>
<line x1="491.30" y1="275.70" x2="493.50" y2="275.70" stroke="#111" stroke-width="0.9" />
<text x="490.10" y="277.70" font-size="5.6" font-family="'Liberation Sans', Arial, sans-serif" fill="#222" font-weight="bold" text-anchor="end" textLength="7.8" lengthAdjust="spacingAndGlyphs" >0.0</text>
<rect x="501.10" y="218.84" width="15.20" height="56.86" fill="#a8a8a8" stroke="#111" stroke-width="1"/>
<line x1="508.70" y1="218.84" x2="508.70" y2="216.85" stroke="#555" stroke-width="0.8" />
<line x1="505.50" y1="216.85" x2="511.90" y2="216.85" stroke="#555" stroke-width="0.8" />
<line x1="508.70" y1="275.70" x2="508.70" y2="277.90" stroke="#111" stroke-width="0.8" />
<text x="508.70" y="285.50" font-size="6.2" font-family="'Liberation Sans', Arial, sans-serif" fill="#222" font-weight="bold" text-anchor="middle" >IgG</text>
<rect x="524.40" y="252.09" width="14.40" height="23.61" fill="#565656" stroke="#111" stroke-width="1"/>
<line x1="531.60" y1="252.09" x2="531.60" y2="241.45" stroke="#555" stroke-width="0.8" />
<line x1="528.40" y1="241.45" x2="534.80" y2="241.45" stroke="#555" stroke-width="0.8" />
<line x1="531.60" y1="275.70" x2="531.60" y2="277.90" stroke="#111" stroke-width="0.8" />
<text x="531.60" y="285.50" font-size="6.2" font-family="'Liberation Sans', Arial, sans-serif" fill="#222" font-weight="bold" text-anchor="middle" >hu14</text>
<text x="476.60" y="235.30" font-size="7.0" font-family="'Liberation Sans', Arial, sans-serif" fill="#222" font-weight="bold" text-anchor="middle" textLength="28.2" lengthAdjust="spacingAndGlyphs" transform="rotate(-90 476.60 235.30)" >pp53/p53</text>
<polyline points="508.30,213.80 508.30,209.30 531.70,209.30 531.70,213.80" stroke="#111" stroke-width="1.0" fill="none" />
<text x="516.30" y="207.90" font-size="8.0" font-family="'Liberation Sans', Arial, sans-serif" fill="#000" font-weight="bold" letter-spacing="1.7" stroke="#000" stroke-width="0.8" stroke-linejoin="round" filter="url(#blurst)">**</text>
<text x="520.30" y="308.70" font-size="7.9" font-family="'Liberation Sans', Arial, sans-serif" fill="#111" font-weight="bold" text-anchor="middle" textLength="34.8" lengthAdjust="spacingAndGlyphs" >SK-N-BE1</text>
<line x1="494.40" y1="318.60" x2="494.40" y2="397.00" stroke="#111" stroke-width="1.2" />
<line x1="494.40" y1="397.00" x2="546.70" y2="397.00" stroke="#111" stroke-width="1.2" />
<line x1="492.20" y1="318.60" x2="494.40" y2="318.60" stroke="#111" stroke-width="0.9" />
<text x="491.00" y="320.60" font-size="5.6" font-family="'Liberation Sans', Arial, sans-serif" fill="#222" font-weight="bold" text-anchor="end" textLength="7.8" lengthAdjust="spacingAndGlyphs" >1.0</text>
<line x1="492.20" y1="334.28" x2="494.40" y2="334.28" stroke="#111" stroke-width="0.9" />
<text x="491.00" y="336.28" font-size="5.6" font-family="'Liberation Sans', Arial, sans-serif" fill="#222" font-weight="bold" text-anchor="end" textLength="7.8" lengthAdjust="spacingAndGlyphs" >0.8</text>
<line x1="492.20" y1="349.96" x2="494.40" y2="349.96" stroke="#111" stroke-width="0.9" />
<text x="491.00" y="351.96" font-size="5.6" font-family="'Liberation Sans', Arial, sans-serif" fill="#222" font-weight="bold" text-anchor="end" textLength="7.8" lengthAdjust="spacingAndGlyphs" >0.6</text>
<line x1="492.20" y1="365.64" x2="494.40" y2="365.64" stroke="#111" stroke-width="0.9" />
<text x="491.00" y="367.64" font-size="5.6" font-family="'Liberation Sans', Arial, sans-serif" fill="#222" font-weight="bold" text-anchor="end" textLength="7.8" lengthAdjust="spacingAndGlyphs" >0.4</text>
<line x1="492.20" y1="381.32" x2="494.40" y2="381.32" stroke="#111" stroke-width="0.9" />
<text x="491.00" y="383.32" font-size="5.6" font-family="'Liberation Sans', Arial, sans-serif" fill="#222" font-weight="bold" text-anchor="end" textLength="7.8" lengthAdjust="spacingAndGlyphs" >0.2</text>
<line x1="492.20" y1="397.00" x2="494.40" y2="397.00" stroke="#111" stroke-width="0.9" />
<text x="491.00" y="399.00" font-size="5.6" font-family="'Liberation Sans', Arial, sans-serif" fill="#222" font-weight="bold" text-anchor="end" textLength="7.8" lengthAdjust="spacingAndGlyphs" >0.0</text>
<rect x="502.20" y="335.46" width="14.30" height="61.54" fill="#a8a8a8" stroke="#111" stroke-width="1"/>
<line x1="509.35" y1="335.46" x2="509.35" y2="323.70" stroke="#555" stroke-width="0.8" />
<line x1="506.15" y1="323.70" x2="512.55" y2="323.70" stroke="#555" stroke-width="0.8" />
<line x1="509.35" y1="397.00" x2="509.35" y2="399.20" stroke="#111" stroke-width="0.8" />
<text x="509.35" y="406.80" font-size="6.2" font-family="'Liberation Sans', Arial, sans-serif" fill="#222" font-weight="bold" text-anchor="middle" >IgG</text>
<rect x="524.60" y="344.08" width="14.60" height="52.92" fill="#565656" stroke="#111" stroke-width="1"/>
<line x1="531.90" y1="344.08" x2="531.90" y2="343.45" stroke="#555" stroke-width="0.8" />
<line x1="528.70" y1="343.45" x2="535.10" y2="343.45" stroke="#555" stroke-width="0.8" />
<line x1="531.90" y1="397.00" x2="531.90" y2="399.20" stroke="#111" stroke-width="0.8" />
<text x="531.90" y="406.80" font-size="6.2" font-family="'Liberation Sans', Arial, sans-serif" fill="#222" font-weight="bold" text-anchor="middle" >hu14</text>
<text x="476.60" y="359.30" font-size="7.0" font-family="'Liberation Sans', Arial, sans-serif" fill="#222" font-weight="bold" text-anchor="middle" textLength="28.2" lengthAdjust="spacingAndGlyphs" transform="rotate(-90 476.60 359.30)" >pp53/p53</text>
</svg></body></html>
